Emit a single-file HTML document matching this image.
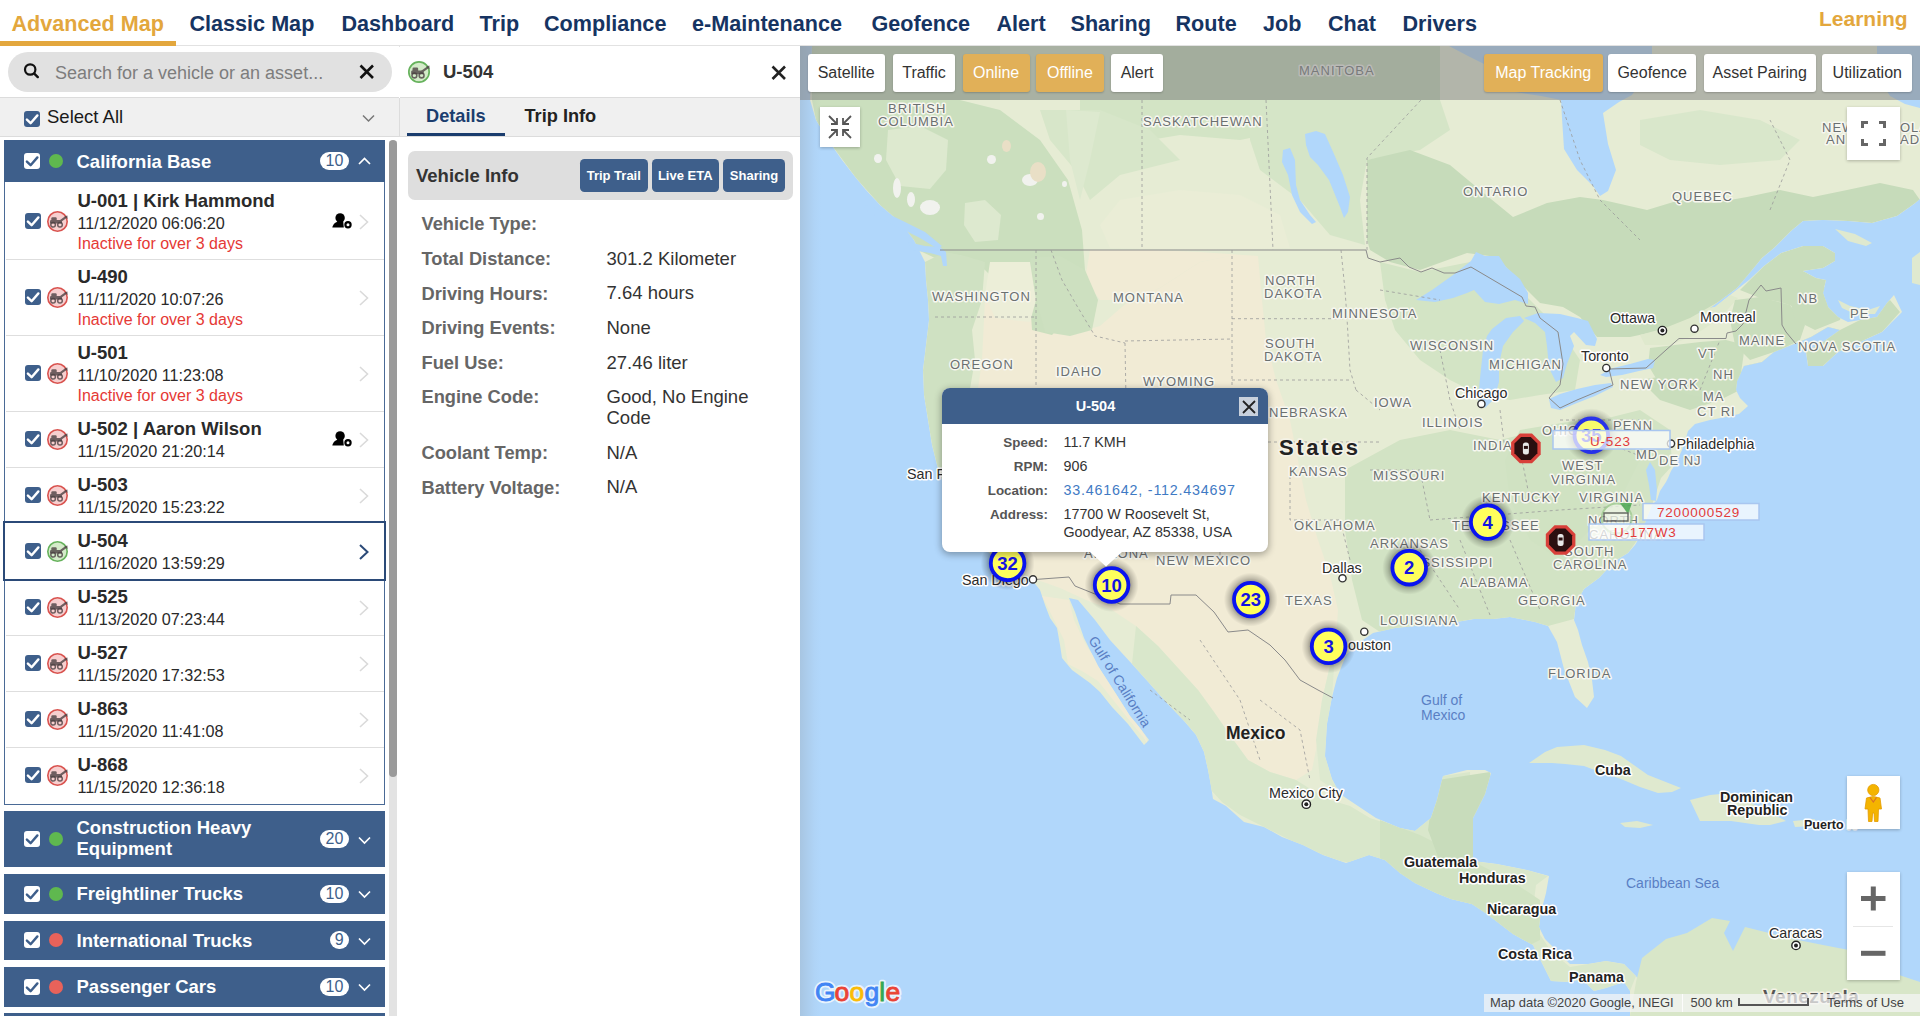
<!DOCTYPE html>
<html><head><meta charset="utf-8"><title>Advanced Map</title>
<style>
html,body{margin:0;padding:0;}
body{width:1920px;height:1016px;overflow:hidden;position:relative;background:#fff;font-family:"Liberation Sans",sans-serif;}
.ab{position:absolute;}
.t{position:absolute;white-space:nowrap;}
svg.ab{overflow:visible;}
</style></head><body>
<div class="ab" style="left:0;top:0;width:1920px;height:46px;background:#fff"></div>
<div class="ab" style="left:0;top:45px;width:1920px;height:2px;background:#e2e2e2"></div>
<div class="ab" style="left:0;top:41px;width:176px;height:5.8px;background:#e3a73d"></div>
<div class="t" style="left:11.5px;top:12.92px;font-size:21.6px;line-height:21.6px;font-weight:bold;color:#e3a73d;width:156px">Advanced Map</div>
<div class="t" style="left:189.5px;top:12.92px;font-size:21.6px;line-height:21.6px;font-weight:bold;color:#163462;width:129px">Classic Map</div>
<div class="t" style="left:341.5px;top:12.92px;font-size:21.6px;line-height:21.6px;font-weight:bold;color:#163462;width:115px">Dashboard</div>
<div class="t" style="left:479.5px;top:12.92px;font-size:21.6px;line-height:21.6px;font-weight:bold;color:#163462;width:41px">Trip</div>
<div class="t" style="left:544px;top:12.92px;font-size:21.6px;line-height:21.6px;font-weight:bold;color:#163462;width:125px">Compliance</div>
<div class="t" style="left:692px;top:12.92px;font-size:21.6px;line-height:21.6px;font-weight:bold;color:#163462;width:155px">e-Maintenance</div>
<div class="t" style="left:871.5px;top:12.92px;font-size:21.6px;line-height:21.6px;font-weight:bold;color:#163462;width:101px">Geofence</div>
<div class="t" style="left:996.5px;top:12.92px;font-size:21.6px;line-height:21.6px;font-weight:bold;color:#163462;width:52px">Alert</div>
<div class="t" style="left:1070.5px;top:12.92px;font-size:21.6px;line-height:21.6px;font-weight:bold;color:#163462;width:81px">Sharing</div>
<div class="t" style="left:1175.5px;top:12.92px;font-size:21.6px;line-height:21.6px;font-weight:bold;color:#163462;width:64px">Route</div>
<div class="t" style="left:1263px;top:12.92px;font-size:21.6px;line-height:21.6px;font-weight:bold;color:#163462;width:41px">Job</div>
<div class="t" style="left:1328px;top:12.92px;font-size:21.6px;line-height:21.6px;font-weight:bold;color:#163462;width:51px">Chat</div>
<div class="t" style="left:1402.5px;top:12.92px;font-size:21.6px;line-height:21.6px;font-weight:bold;color:#163462;width:76px">Drivers</div>
<div class="t" style="left:1819px;top:7.72px;font-size:21px;line-height:21px;font-weight:bold;color:#e3a73d;">Learning</div>
<div class="ab" style="left:0;top:46px;width:399px;height:970px;background:#fff"></div>
<div class="ab" style="left:8px;top:52px;width:384px;height:40px;border-radius:20px;background:#e1e1e1"></div>
<svg class="ab" style="left:22px;top:64px" width="20" height="18" viewBox="0 0 20 18"><circle cx="8.2" cy="5.5" r="5.2" fill="none" stroke="#111" stroke-width="2.2"/><path d="M12.3 9.6 L15.8 13.1" stroke="#111" stroke-width="2.4" stroke-linecap="round"/></svg>
<div class="t" style="left:55px;top:63.96px;font-size:18px;line-height:18px;font-weight:normal;color:#7d7d7d;">Search for a vehicle or an asset...</div>
<svg class="ab" style="left:359px;top:64px" width="16" height="16" viewBox="0 0 16 16"><path d="M1.5 1.5 L14 14 M14 1.5 L1.5 14" stroke="#111" stroke-width="2.6"/></svg>
<div class="ab" style="left:0;top:97px;width:399px;height:1px;background:#dcdcdc"></div>
<div class="ab" style="left:0;top:98px;width:399px;height:38px;background:#f0f0f0"></div>
<div class="ab" style="left:0;top:136px;width:399px;height:1px;background:#dcdcdc"></div>
<svg class="ab" style="left:24px;top:111px" width="16" height="16" viewBox="0 0 16 16"><rect x="0" y="0" width="16" height="16" rx="3" fill="#3e5f8b"/><path d="M2.9 8.6 L6.6 12.2 L13.4 4.4" fill="none" stroke="#ffffff" stroke-width="2.4" stroke-linecap="round" stroke-linejoin="round"/></svg>
<div class="t" style="left:47px;top:108.34px;font-size:18.5px;line-height:18.5px;font-weight:normal;color:#1a1a1a;">Select All</div>
<svg class="ab" style="left:362px;top:114px" width="13" height="9" viewBox="0 0 13 9"><path d="M1 1.5 L6.5 7 L12 1.5" fill="none" stroke="#777" stroke-width="1.5"/></svg>
<div class="ab" style="left:4px;top:140.2px;width:380.8px;height:42.3px;background:#3e5f8b"></div><svg class="ab" style="left:24px;top:153px" width="16" height="16" viewBox="0 0 16 16"><rect x="0" y="0" width="16" height="16" rx="3" fill="#ffffff"/><path d="M2.9 8.6 L6.6 12.2 L13.4 4.4" fill="none" stroke="#3e5f8b" stroke-width="2.4" stroke-linecap="round" stroke-linejoin="round"/></svg><div class="ab" style="left:49px;top:154.3px;width:14px;height:14px;border-radius:7px;background:#5fb84f"></div><div class="t" style="left:76.5px;top:152.99px;font-size:18.5px;line-height:18.5px;font-weight:bold;color:#fff;">California Base</div><div class="ab" style="left:320px;top:152.3px;width:29px;height:18px;border-radius:9px;background:#fff;color:#3e5f8b;font-size:16px;line-height:18px;text-align:center">10</div><svg class="ab" style="left:357.5px;top:157px" width="13" height="9" viewBox="0 0 13 9"><path d="M1 7 L6.5 1.5 L12 7" fill="none" stroke="#fff" stroke-width="1.7"/></svg>
<div class="ab" style="left:4.2px;top:182px;width:378.6px;height:622px;border:1px solid #4a6a96;border-top:none;background:#fff"></div>
<svg class="ab" style="left:25px;top:213px" width="16" height="16" viewBox="0 0 16 16"><rect x="0" y="0" width="16" height="16" rx="3" fill="#3e5f8b"/><path d="M2.9 8.6 L6.6 12.2 L13.4 4.4" fill="none" stroke="#ffffff" stroke-width="2.4" stroke-linecap="round" stroke-linejoin="round"/></svg>
<svg class="ab" style="left:46.9px;top:210.5px" width="21" height="21" viewBox="0 0 21 21"><circle cx="10.5" cy="10.5" r="9.7" fill="#f7cfcf" stroke="#d9534f" stroke-width="1.6"/><g fill="#4a3f41" opacity="0.78" transform="translate(0,-1.2)"><rect x="4.3" y="7.4" width="5.4" height="4" rx="1.2"/><rect x="3" y="10.2" width="12" height="3.6" rx="1.2"/><path d="M12 11 L18.6 6.2 L20.2 7.6 L13.6 12.4 Z"/><path d="M17.6 6.4 L20.4 5.6 L20.6 9.4 Z"/></g><g fill="none" stroke="#4a3f41" stroke-width="1.5" opacity="0.78" transform="translate(0,-1.2)"><circle cx="6.1" cy="15" r="2.3"/><circle cx="13" cy="15" r="2.3"/></g></svg>
<div class="t" style="left:77.5px;top:191.84px;font-size:18.5px;line-height:18.5px;font-weight:bold;color:#2a2a2a;">U-001 | Kirk Hammond</div>
<div class="t" style="left:77.5px;top:215.29px;font-size:16.2px;line-height:16.2px;font-weight:normal;color:#2a2a2a;">11/12/2020 06:06:20</div>
<div class="t" style="left:77.5px;top:235.86px;font-size:16px;line-height:16px;font-weight:normal;color:#e53935;">Inactive for over 3 days</div>
<svg class="ab" style="left:332px;top:213px" width="21" height="16" viewBox="0 0 21 16"><circle cx="8.1" cy="4.9" r="4.7" fill="#000"/><path d="M0.3 14.6 C1 10.8 3.6 8.4 7.6 8.4 L11.2 8.4 L11.8 14.6 Z" fill="#000"/><circle cx="16" cy="11.8" r="2.6" fill="#fff" stroke="#000" stroke-width="2.2"/></svg>
<svg class="ab" style="left:357.8px;top:214.0px" width="12" height="16" viewBox="0 0 12 16"><path d="M2 1 L9.5 8 L2 15" fill="none" stroke="#dadada" stroke-width="1.6"/></svg>
<div class="ab" style="left:5.5px;top:258.7px;width:378px;height:1px;background:#dedede"></div>
<svg class="ab" style="left:25px;top:289px" width="16" height="16" viewBox="0 0 16 16"><rect x="0" y="0" width="16" height="16" rx="3" fill="#3e5f8b"/><path d="M2.9 8.6 L6.6 12.2 L13.4 4.4" fill="none" stroke="#ffffff" stroke-width="2.4" stroke-linecap="round" stroke-linejoin="round"/></svg>
<svg class="ab" style="left:46.9px;top:286.5px" width="21" height="21" viewBox="0 0 21 21"><circle cx="10.5" cy="10.5" r="9.7" fill="#f7cfcf" stroke="#d9534f" stroke-width="1.6"/><g fill="#4a3f41" opacity="0.78" transform="translate(0,-1.2)"><rect x="4.3" y="7.4" width="5.4" height="4" rx="1.2"/><rect x="3" y="10.2" width="12" height="3.6" rx="1.2"/><path d="M12 11 L18.6 6.2 L20.2 7.6 L13.6 12.4 Z"/><path d="M17.6 6.4 L20.4 5.6 L20.6 9.4 Z"/></g><g fill="none" stroke="#4a3f41" stroke-width="1.5" opacity="0.78" transform="translate(0,-1.2)"><circle cx="6.1" cy="15" r="2.3"/><circle cx="13" cy="15" r="2.3"/></g></svg>
<div class="t" style="left:77.5px;top:267.84px;font-size:18.5px;line-height:18.5px;font-weight:bold;color:#2a2a2a;">U-490</div>
<div class="t" style="left:77.5px;top:291.29px;font-size:16.2px;line-height:16.2px;font-weight:normal;color:#2a2a2a;">11/11/2020 10:07:26</div>
<div class="t" style="left:77.5px;top:311.86px;font-size:16px;line-height:16px;font-weight:normal;color:#e53935;">Inactive for over 3 days</div>
<svg class="ab" style="left:357.8px;top:290.0px" width="12" height="16" viewBox="0 0 12 16"><path d="M2 1 L9.5 8 L2 15" fill="none" stroke="#dadada" stroke-width="1.6"/></svg>
<div class="ab" style="left:5.5px;top:334.7px;width:378px;height:1px;background:#dedede"></div>
<svg class="ab" style="left:25px;top:365px" width="16" height="16" viewBox="0 0 16 16"><rect x="0" y="0" width="16" height="16" rx="3" fill="#3e5f8b"/><path d="M2.9 8.6 L6.6 12.2 L13.4 4.4" fill="none" stroke="#ffffff" stroke-width="2.4" stroke-linecap="round" stroke-linejoin="round"/></svg>
<svg class="ab" style="left:46.9px;top:362.5px" width="21" height="21" viewBox="0 0 21 21"><circle cx="10.5" cy="10.5" r="9.7" fill="#f7cfcf" stroke="#d9534f" stroke-width="1.6"/><g fill="#4a3f41" opacity="0.78" transform="translate(0,-1.2)"><rect x="4.3" y="7.4" width="5.4" height="4" rx="1.2"/><rect x="3" y="10.2" width="12" height="3.6" rx="1.2"/><path d="M12 11 L18.6 6.2 L20.2 7.6 L13.6 12.4 Z"/><path d="M17.6 6.4 L20.4 5.6 L20.6 9.4 Z"/></g><g fill="none" stroke="#4a3f41" stroke-width="1.5" opacity="0.78" transform="translate(0,-1.2)"><circle cx="6.1" cy="15" r="2.3"/><circle cx="13" cy="15" r="2.3"/></g></svg>
<div class="t" style="left:77.5px;top:343.84px;font-size:18.5px;line-height:18.5px;font-weight:bold;color:#2a2a2a;">U-501</div>
<div class="t" style="left:77.5px;top:367.29px;font-size:16.2px;line-height:16.2px;font-weight:normal;color:#2a2a2a;">11/10/2020 11:23:08</div>
<div class="t" style="left:77.5px;top:387.86px;font-size:16px;line-height:16px;font-weight:normal;color:#e53935;">Inactive for over 3 days</div>
<svg class="ab" style="left:357.8px;top:366.0px" width="12" height="16" viewBox="0 0 12 16"><path d="M2 1 L9.5 8 L2 15" fill="none" stroke="#dadada" stroke-width="1.6"/></svg>
<div class="ab" style="left:5.5px;top:410.7px;width:378px;height:1px;background:#dedede"></div>
<svg class="ab" style="left:25px;top:431px" width="16" height="16" viewBox="0 0 16 16"><rect x="0" y="0" width="16" height="16" rx="3" fill="#3e5f8b"/><path d="M2.9 8.6 L6.6 12.2 L13.4 4.4" fill="none" stroke="#ffffff" stroke-width="2.4" stroke-linecap="round" stroke-linejoin="round"/></svg>
<svg class="ab" style="left:46.9px;top:428.5px" width="21" height="21" viewBox="0 0 21 21"><circle cx="10.5" cy="10.5" r="9.7" fill="#f7cfcf" stroke="#d9534f" stroke-width="1.6"/><g fill="#4a3f41" opacity="0.78" transform="translate(0,-1.2)"><rect x="4.3" y="7.4" width="5.4" height="4" rx="1.2"/><rect x="3" y="10.2" width="12" height="3.6" rx="1.2"/><path d="M12 11 L18.6 6.2 L20.2 7.6 L13.6 12.4 Z"/><path d="M17.6 6.4 L20.4 5.6 L20.6 9.4 Z"/></g><g fill="none" stroke="#4a3f41" stroke-width="1.5" opacity="0.78" transform="translate(0,-1.2)"><circle cx="6.1" cy="15" r="2.3"/><circle cx="13" cy="15" r="2.3"/></g></svg>
<div class="t" style="left:77.5px;top:419.84px;font-size:18.5px;line-height:18.5px;font-weight:bold;color:#2a2a2a;">U-502 | Aaron Wilson</div>
<div class="t" style="left:77.5px;top:443.29px;font-size:16.2px;line-height:16.2px;font-weight:normal;color:#2a2a2a;">11/15/2020 21:20:14</div>
<svg class="ab" style="left:332px;top:431px" width="21" height="16" viewBox="0 0 21 16"><circle cx="8.1" cy="4.9" r="4.7" fill="#000"/><path d="M0.3 14.6 C1 10.8 3.6 8.4 7.6 8.4 L11.2 8.4 L11.8 14.6 Z" fill="#000"/><circle cx="16" cy="11.8" r="2.6" fill="#fff" stroke="#000" stroke-width="2.2"/></svg>
<svg class="ab" style="left:357.8px;top:432.0px" width="12" height="16" viewBox="0 0 12 16"><path d="M2 1 L9.5 8 L2 15" fill="none" stroke="#dadada" stroke-width="1.6"/></svg>
<div class="ab" style="left:5.5px;top:466.7px;width:378px;height:1px;background:#dedede"></div>
<svg class="ab" style="left:25px;top:487px" width="16" height="16" viewBox="0 0 16 16"><rect x="0" y="0" width="16" height="16" rx="3" fill="#3e5f8b"/><path d="M2.9 8.6 L6.6 12.2 L13.4 4.4" fill="none" stroke="#ffffff" stroke-width="2.4" stroke-linecap="round" stroke-linejoin="round"/></svg>
<svg class="ab" style="left:46.9px;top:484.5px" width="21" height="21" viewBox="0 0 21 21"><circle cx="10.5" cy="10.5" r="9.7" fill="#f7cfcf" stroke="#d9534f" stroke-width="1.6"/><g fill="#4a3f41" opacity="0.78" transform="translate(0,-1.2)"><rect x="4.3" y="7.4" width="5.4" height="4" rx="1.2"/><rect x="3" y="10.2" width="12" height="3.6" rx="1.2"/><path d="M12 11 L18.6 6.2 L20.2 7.6 L13.6 12.4 Z"/><path d="M17.6 6.4 L20.4 5.6 L20.6 9.4 Z"/></g><g fill="none" stroke="#4a3f41" stroke-width="1.5" opacity="0.78" transform="translate(0,-1.2)"><circle cx="6.1" cy="15" r="2.3"/><circle cx="13" cy="15" r="2.3"/></g></svg>
<div class="t" style="left:77.5px;top:475.84px;font-size:18.5px;line-height:18.5px;font-weight:bold;color:#2a2a2a;">U-503</div>
<div class="t" style="left:77.5px;top:499.29px;font-size:16.2px;line-height:16.2px;font-weight:normal;color:#2a2a2a;">11/15/2020 15:23:22</div>
<svg class="ab" style="left:357.8px;top:488.0px" width="12" height="16" viewBox="0 0 12 16"><path d="M2 1 L9.5 8 L2 15" fill="none" stroke="#dadada" stroke-width="1.6"/></svg>
<div class="ab" style="left:3px;top:521px;width:382.5px;height:60px;border:2.2px solid #2b4a78;box-sizing:border-box;"></div>
<svg class="ab" style="left:25px;top:543px" width="16" height="16" viewBox="0 0 16 16"><rect x="0" y="0" width="16" height="16" rx="3" fill="#3e5f8b"/><path d="M2.9 8.6 L6.6 12.2 L13.4 4.4" fill="none" stroke="#ffffff" stroke-width="2.4" stroke-linecap="round" stroke-linejoin="round"/></svg>
<svg class="ab" style="left:46.9px;top:540.5px" width="21" height="21" viewBox="0 0 21 21"><circle cx="10.5" cy="10.5" r="9.7" fill="#d4ebc9" stroke="#66b25c" stroke-width="1.6"/><g fill="#4a3f41" opacity="0.78" transform="translate(0,-1.2)"><rect x="4.3" y="7.4" width="5.4" height="4" rx="1.2"/><rect x="3" y="10.2" width="12" height="3.6" rx="1.2"/><path d="M12 11 L18.6 6.2 L20.2 7.6 L13.6 12.4 Z"/><path d="M17.6 6.4 L20.4 5.6 L20.6 9.4 Z"/></g><g fill="none" stroke="#4a3f41" stroke-width="1.5" opacity="0.78" transform="translate(0,-1.2)"><circle cx="6.1" cy="15" r="2.3"/><circle cx="13" cy="15" r="2.3"/></g></svg>
<div class="t" style="left:77.5px;top:531.84px;font-size:18.5px;line-height:18.5px;font-weight:bold;color:#2a2a2a;">U-504</div>
<div class="t" style="left:77.5px;top:555.29px;font-size:16.2px;line-height:16.2px;font-weight:normal;color:#2a2a2a;">11/16/2020 13:59:29</div>
<svg class="ab" style="left:357.8px;top:544.0px" width="12" height="16" viewBox="0 0 12 16"><path d="M2 1 L9.5 8 L2 15" fill="none" stroke="#2b4a78" stroke-width="2"/></svg>
<svg class="ab" style="left:25px;top:599px" width="16" height="16" viewBox="0 0 16 16"><rect x="0" y="0" width="16" height="16" rx="3" fill="#3e5f8b"/><path d="M2.9 8.6 L6.6 12.2 L13.4 4.4" fill="none" stroke="#ffffff" stroke-width="2.4" stroke-linecap="round" stroke-linejoin="round"/></svg>
<svg class="ab" style="left:46.9px;top:596.5px" width="21" height="21" viewBox="0 0 21 21"><circle cx="10.5" cy="10.5" r="9.7" fill="#f7cfcf" stroke="#d9534f" stroke-width="1.6"/><g fill="#4a3f41" opacity="0.78" transform="translate(0,-1.2)"><rect x="4.3" y="7.4" width="5.4" height="4" rx="1.2"/><rect x="3" y="10.2" width="12" height="3.6" rx="1.2"/><path d="M12 11 L18.6 6.2 L20.2 7.6 L13.6 12.4 Z"/><path d="M17.6 6.4 L20.4 5.6 L20.6 9.4 Z"/></g><g fill="none" stroke="#4a3f41" stroke-width="1.5" opacity="0.78" transform="translate(0,-1.2)"><circle cx="6.1" cy="15" r="2.3"/><circle cx="13" cy="15" r="2.3"/></g></svg>
<div class="t" style="left:77.5px;top:587.84px;font-size:18.5px;line-height:18.5px;font-weight:bold;color:#2a2a2a;">U-525</div>
<div class="t" style="left:77.5px;top:611.29px;font-size:16.2px;line-height:16.2px;font-weight:normal;color:#2a2a2a;">11/13/2020 07:23:44</div>
<svg class="ab" style="left:357.8px;top:600.0px" width="12" height="16" viewBox="0 0 12 16"><path d="M2 1 L9.5 8 L2 15" fill="none" stroke="#dadada" stroke-width="1.6"/></svg>
<div class="ab" style="left:5.5px;top:634.7px;width:378px;height:1px;background:#dedede"></div>
<svg class="ab" style="left:25px;top:655px" width="16" height="16" viewBox="0 0 16 16"><rect x="0" y="0" width="16" height="16" rx="3" fill="#3e5f8b"/><path d="M2.9 8.6 L6.6 12.2 L13.4 4.4" fill="none" stroke="#ffffff" stroke-width="2.4" stroke-linecap="round" stroke-linejoin="round"/></svg>
<svg class="ab" style="left:46.9px;top:652.5px" width="21" height="21" viewBox="0 0 21 21"><circle cx="10.5" cy="10.5" r="9.7" fill="#f7cfcf" stroke="#d9534f" stroke-width="1.6"/><g fill="#4a3f41" opacity="0.78" transform="translate(0,-1.2)"><rect x="4.3" y="7.4" width="5.4" height="4" rx="1.2"/><rect x="3" y="10.2" width="12" height="3.6" rx="1.2"/><path d="M12 11 L18.6 6.2 L20.2 7.6 L13.6 12.4 Z"/><path d="M17.6 6.4 L20.4 5.6 L20.6 9.4 Z"/></g><g fill="none" stroke="#4a3f41" stroke-width="1.5" opacity="0.78" transform="translate(0,-1.2)"><circle cx="6.1" cy="15" r="2.3"/><circle cx="13" cy="15" r="2.3"/></g></svg>
<div class="t" style="left:77.5px;top:643.84px;font-size:18.5px;line-height:18.5px;font-weight:bold;color:#2a2a2a;">U-527</div>
<div class="t" style="left:77.5px;top:667.29px;font-size:16.2px;line-height:16.2px;font-weight:normal;color:#2a2a2a;">11/15/2020 17:32:53</div>
<svg class="ab" style="left:357.8px;top:656.0px" width="12" height="16" viewBox="0 0 12 16"><path d="M2 1 L9.5 8 L2 15" fill="none" stroke="#dadada" stroke-width="1.6"/></svg>
<div class="ab" style="left:5.5px;top:690.7px;width:378px;height:1px;background:#dedede"></div>
<svg class="ab" style="left:25px;top:711px" width="16" height="16" viewBox="0 0 16 16"><rect x="0" y="0" width="16" height="16" rx="3" fill="#3e5f8b"/><path d="M2.9 8.6 L6.6 12.2 L13.4 4.4" fill="none" stroke="#ffffff" stroke-width="2.4" stroke-linecap="round" stroke-linejoin="round"/></svg>
<svg class="ab" style="left:46.9px;top:708.5px" width="21" height="21" viewBox="0 0 21 21"><circle cx="10.5" cy="10.5" r="9.7" fill="#f7cfcf" stroke="#d9534f" stroke-width="1.6"/><g fill="#4a3f41" opacity="0.78" transform="translate(0,-1.2)"><rect x="4.3" y="7.4" width="5.4" height="4" rx="1.2"/><rect x="3" y="10.2" width="12" height="3.6" rx="1.2"/><path d="M12 11 L18.6 6.2 L20.2 7.6 L13.6 12.4 Z"/><path d="M17.6 6.4 L20.4 5.6 L20.6 9.4 Z"/></g><g fill="none" stroke="#4a3f41" stroke-width="1.5" opacity="0.78" transform="translate(0,-1.2)"><circle cx="6.1" cy="15" r="2.3"/><circle cx="13" cy="15" r="2.3"/></g></svg>
<div class="t" style="left:77.5px;top:699.84px;font-size:18.5px;line-height:18.5px;font-weight:bold;color:#2a2a2a;">U-863</div>
<div class="t" style="left:77.5px;top:723.29px;font-size:16.2px;line-height:16.2px;font-weight:normal;color:#2a2a2a;">11/15/2020 11:41:08</div>
<svg class="ab" style="left:357.8px;top:712.0px" width="12" height="16" viewBox="0 0 12 16"><path d="M2 1 L9.5 8 L2 15" fill="none" stroke="#dadada" stroke-width="1.6"/></svg>
<div class="ab" style="left:5.5px;top:746.7px;width:378px;height:1px;background:#dedede"></div>
<svg class="ab" style="left:25px;top:767px" width="16" height="16" viewBox="0 0 16 16"><rect x="0" y="0" width="16" height="16" rx="3" fill="#3e5f8b"/><path d="M2.9 8.6 L6.6 12.2 L13.4 4.4" fill="none" stroke="#ffffff" stroke-width="2.4" stroke-linecap="round" stroke-linejoin="round"/></svg>
<svg class="ab" style="left:46.9px;top:764.5px" width="21" height="21" viewBox="0 0 21 21"><circle cx="10.5" cy="10.5" r="9.7" fill="#f7cfcf" stroke="#d9534f" stroke-width="1.6"/><g fill="#4a3f41" opacity="0.78" transform="translate(0,-1.2)"><rect x="4.3" y="7.4" width="5.4" height="4" rx="1.2"/><rect x="3" y="10.2" width="12" height="3.6" rx="1.2"/><path d="M12 11 L18.6 6.2 L20.2 7.6 L13.6 12.4 Z"/><path d="M17.6 6.4 L20.4 5.6 L20.6 9.4 Z"/></g><g fill="none" stroke="#4a3f41" stroke-width="1.5" opacity="0.78" transform="translate(0,-1.2)"><circle cx="6.1" cy="15" r="2.3"/><circle cx="13" cy="15" r="2.3"/></g></svg>
<div class="t" style="left:77.5px;top:755.84px;font-size:18.5px;line-height:18.5px;font-weight:bold;color:#2a2a2a;">U-868</div>
<div class="t" style="left:77.5px;top:779.29px;font-size:16.2px;line-height:16.2px;font-weight:normal;color:#2a2a2a;">11/15/2020 12:36:18</div>
<svg class="ab" style="left:357.8px;top:768.0px" width="12" height="16" viewBox="0 0 12 16"><path d="M2 1 L9.5 8 L2 15" fill="none" stroke="#dadada" stroke-width="1.6"/></svg>
<div class="ab" style="left:4px;top:811px;width:380.8px;height:56px;background:#3e5f8b"></div><svg class="ab" style="left:24px;top:831px" width="16" height="16" viewBox="0 0 16 16"><rect x="0" y="0" width="16" height="16" rx="3" fill="#ffffff"/><path d="M2.9 8.6 L6.6 12.2 L13.4 4.4" fill="none" stroke="#3e5f8b" stroke-width="2.4" stroke-linecap="round" stroke-linejoin="round"/></svg><div class="ab" style="left:49px;top:832.0px;width:14px;height:14px;border-radius:7px;background:#5fb84f"></div><div class="t" style="left:76.5px;top:819.34px;font-size:18.5px;line-height:18.5px;font-weight:bold;color:#fff;">Construction Heavy</div><div class="t" style="left:76.5px;top:840.04px;font-size:18.5px;line-height:18.5px;font-weight:bold;color:#fff;">Equipment</div><div class="ab" style="left:320px;top:830.0px;width:29px;height:18px;border-radius:9px;background:#fff;color:#3e5f8b;font-size:16px;line-height:18px;text-align:center">20</div><svg class="ab" style="left:357.5px;top:836px" width="13" height="9" viewBox="0 0 13 9"><path d="M1 1.5 L6.5 7 L12 1.5" fill="none" stroke="#fff" stroke-width="1.7"/></svg>
<div class="ab" style="left:4px;top:874px;width:380.8px;height:39.5px;background:#3e5f8b"></div><svg class="ab" style="left:24px;top:886px" width="16" height="16" viewBox="0 0 16 16"><rect x="0" y="0" width="16" height="16" rx="3" fill="#ffffff"/><path d="M2.9 8.6 L6.6 12.2 L13.4 4.4" fill="none" stroke="#3e5f8b" stroke-width="2.4" stroke-linecap="round" stroke-linejoin="round"/></svg><div class="ab" style="left:49px;top:886.8px;width:14px;height:14px;border-radius:7px;background:#5fb84f"></div><div class="t" style="left:76.5px;top:885.39px;font-size:18.5px;line-height:18.5px;font-weight:bold;color:#fff;">Freightliner Trucks</div><div class="ab" style="left:320px;top:884.8px;width:29px;height:18px;border-radius:9px;background:#fff;color:#3e5f8b;font-size:16px;line-height:18px;text-align:center">10</div><svg class="ab" style="left:357.5px;top:890px" width="13" height="9" viewBox="0 0 13 9"><path d="M1 1.5 L6.5 7 L12 1.5" fill="none" stroke="#fff" stroke-width="1.7"/></svg>
<div class="ab" style="left:4px;top:920.5px;width:380.8px;height:39.5px;background:#3e5f8b"></div><svg class="ab" style="left:24px;top:932px" width="16" height="16" viewBox="0 0 16 16"><rect x="0" y="0" width="16" height="16" rx="3" fill="#ffffff"/><path d="M2.9 8.6 L6.6 12.2 L13.4 4.4" fill="none" stroke="#3e5f8b" stroke-width="2.4" stroke-linecap="round" stroke-linejoin="round"/></svg><div class="ab" style="left:49px;top:933.2px;width:14px;height:14px;border-radius:7px;background:#e8625a"></div><div class="t" style="left:76.5px;top:931.89px;font-size:18.5px;line-height:18.5px;font-weight:bold;color:#fff;">International Trucks</div><div class="ab" style="left:329.5px;top:931.2px;width:19.5px;height:18px;border-radius:9px;background:#fff;color:#3e5f8b;font-size:16px;line-height:18px;text-align:center">9</div><svg class="ab" style="left:357.5px;top:937px" width="13" height="9" viewBox="0 0 13 9"><path d="M1 1.5 L6.5 7 L12 1.5" fill="none" stroke="#fff" stroke-width="1.7"/></svg>
<div class="ab" style="left:4px;top:967px;width:380.8px;height:39.5px;background:#3e5f8b"></div><svg class="ab" style="left:24px;top:979px" width="16" height="16" viewBox="0 0 16 16"><rect x="0" y="0" width="16" height="16" rx="3" fill="#ffffff"/><path d="M2.9 8.6 L6.6 12.2 L13.4 4.4" fill="none" stroke="#3e5f8b" stroke-width="2.4" stroke-linecap="round" stroke-linejoin="round"/></svg><div class="ab" style="left:49px;top:979.8px;width:14px;height:14px;border-radius:7px;background:#e8625a"></div><div class="t" style="left:76.5px;top:978.39px;font-size:18.5px;line-height:18.5px;font-weight:bold;color:#fff;">Passenger Cars</div><div class="ab" style="left:320px;top:977.8px;width:29px;height:18px;border-radius:9px;background:#fff;color:#3e5f8b;font-size:16px;line-height:18px;text-align:center">10</div><svg class="ab" style="left:357.5px;top:983px" width="13" height="9" viewBox="0 0 13 9"><path d="M1 1.5 L6.5 7 L12 1.5" fill="none" stroke="#fff" stroke-width="1.7"/></svg>
<div class="ab" style="left:4px;top:1013px;width:380.8px;height:10px;background:#3e5f8b"></div>
<div class="ab" style="left:389px;top:141px;width:8.3px;height:875px;background:#e3e3e3"></div>
<div class="ab" style="left:389.3px;top:140px;width:7.7px;height:637px;border-radius:4px;background:#9a9a9a"></div>
<div class="ab" style="left:399px;top:98px;width:1px;height:39px;background:#dcdcdc"></div>
<div class="ab" style="left:400px;top:46px;width:400px;height:970px;background:#fff"></div>
<svg class="ab" style="left:407.7px;top:61.0px" width="22" height="22" viewBox="0 0 21 21"><circle cx="10.5" cy="10.5" r="9.7" fill="#d4ebc9" stroke="#66b25c" stroke-width="1.6"/><g fill="#4a3f41" opacity="0.78" transform="translate(0,-1.2)"><rect x="4.3" y="7.4" width="5.4" height="4" rx="1.2"/><rect x="3" y="10.2" width="12" height="3.6" rx="1.2"/><path d="M12 11 L18.6 6.2 L20.2 7.6 L13.6 12.4 Z"/><path d="M17.6 6.4 L20.4 5.6 L20.6 9.4 Z"/></g><g fill="none" stroke="#4a3f41" stroke-width="1.5" opacity="0.78" transform="translate(0,-1.2)"><circle cx="6.1" cy="15" r="2.3"/><circle cx="13" cy="15" r="2.3"/></g></svg>
<div class="t" style="left:443px;top:63.04px;font-size:18.5px;line-height:18.5px;font-weight:bold;color:#333;">U-504</div>
<svg class="ab" style="left:771px;top:64.5px" width="16" height="16" viewBox="0 0 16 16"><path d="M1.5 1.5 L14 14 M14 1.5 L1.5 14" stroke="#222" stroke-width="2.6"/></svg>
<div class="ab" style="left:400px;top:97px;width:400px;height:1px;background:#dcdcdc"></div>
<div class="ab" style="left:400px;top:98px;width:400px;height:38px;background:#f0f0f0"></div>
<div class="ab" style="left:400px;top:136px;width:400px;height:1px;background:#dcdcdc"></div>
<div class="ab" style="left:406.7px;top:133px;width:98.3px;height:3px;background:#1b3d6e"></div>
<div class="t" style="left:426px;top:106.79px;font-size:18.2px;line-height:18.2px;font-weight:bold;color:#1b3d6e;">Details</div>
<div class="t" style="left:524.5px;top:106.79px;font-size:18.2px;line-height:18.2px;font-weight:bold;color:#222;">Trip Info</div>
<div class="ab" style="left:408px;top:151px;width:385px;height:49px;border-radius:7px;background:#dedede"></div>
<div class="t" style="left:416px;top:167.04px;font-size:18.5px;line-height:18.5px;font-weight:bold;color:#333;">Vehicle Info</div>
<div class="ab" style="left:580px;top:159px;width:67.5px;height:32.5px;border-radius:4.5px;background:#3e5f8b;color:#fff;font-weight:bold;font-size:13px;line-height:34px;text-align:center">Trip Trail</div>
<div class="ab" style="left:652px;top:159px;width:66.5px;height:32.5px;border-radius:4.5px;background:#3e5f8b;color:#fff;font-weight:bold;font-size:13px;line-height:34px;text-align:center">Live ETA</div>
<div class="ab" style="left:723px;top:159px;width:62px;height:32.5px;border-radius:4.5px;background:#3e5f8b;color:#fff;font-weight:bold;font-size:13px;line-height:34px;text-align:center">Sharing</div>
<div class="t" style="left:421.5px;top:215.41px;font-size:18.3px;line-height:18.3px;font-weight:bold;color:#666;">Vehicle Type:</div>
<div class="t" style="left:421.5px;top:250.01px;font-size:18.3px;line-height:18.3px;font-weight:bold;color:#666;">Total Distance:</div>
<div class="t" style="left:606.5px;top:249.84px;font-size:18.5px;line-height:18.5px;font-weight:normal;color:#333;">301.2 Kilometer</div>
<div class="t" style="left:421.5px;top:284.61px;font-size:18.3px;line-height:18.3px;font-weight:bold;color:#666;">Driving Hours:</div>
<div class="t" style="left:606.5px;top:284.44px;font-size:18.5px;line-height:18.5px;font-weight:normal;color:#333;">7.64 hours</div>
<div class="t" style="left:421.5px;top:319.21px;font-size:18.3px;line-height:18.3px;font-weight:bold;color:#666;">Driving Events:</div>
<div class="t" style="left:606.5px;top:319.04px;font-size:18.5px;line-height:18.5px;font-weight:normal;color:#333;">None</div>
<div class="t" style="left:421.5px;top:353.81px;font-size:18.3px;line-height:18.3px;font-weight:bold;color:#666;">Fuel Use:</div>
<div class="t" style="left:606.5px;top:353.64px;font-size:18.5px;line-height:18.5px;font-weight:normal;color:#333;">27.46 liter</div>
<div class="t" style="left:421.5px;top:388.41px;font-size:18.3px;line-height:18.3px;font-weight:bold;color:#666;">Engine Code:</div>
<div class="t" style="left:606.5px;top:388.24px;font-size:18.5px;line-height:18.5px;font-weight:normal;color:#333;">Good, No Engine</div>
<div class="t" style="left:606.5px;top:409.24px;font-size:18.5px;line-height:18.5px;font-weight:normal;color:#333;">Code</div>
<div class="t" style="left:421.5px;top:444.01px;font-size:18.3px;line-height:18.3px;font-weight:bold;color:#666;">Coolant Temp:</div>
<div class="t" style="left:606.5px;top:443.84px;font-size:18.5px;line-height:18.5px;font-weight:normal;color:#333;">N/A</div>
<div class="t" style="left:421.5px;top:478.61px;font-size:18.3px;line-height:18.3px;font-weight:bold;color:#666;">Battery Voltage:</div>
<div class="t" style="left:606.5px;top:478.44px;font-size:18.5px;line-height:18.5px;font-weight:normal;color:#333;">N/A</div>
<svg class="ab" style="left:800px;top:46px" width="1120" height="970" viewBox="800 46 1120 970" font-family="Liberation Sans, sans-serif">
<defs><radialGradient id="cshadow" cx="0.5" cy="0.5" r="0.5"><stop offset="0.6" stop-color="#000" stop-opacity="0.45"/><stop offset="0.8" stop-color="#000" stop-opacity="0.18"/><stop offset="1" stop-color="#000" stop-opacity="0"/></radialGradient></defs>
<rect x="800" y="46" width="1120" height="970" fill="#b1d7fb"/>
<clipPath id="landclip"><path d="M812,46 L810,100 L816,120 L828,140 L842,160 L856,178 L866,190 L880,205 L893,216 L905,228 L914,240 L920,252 L925,262 L926,280 L928,300 L929,320 L926,345 L923,370 L924,395 L928,420 L932,445 L937,465 L942,480 L950,500 L962,522 L980,545 L1000,562 L1020,575 L1032,580 L1040,590 L1045,605 L1050,618 L1057,628 L1060,645 L1062,658 L1072,670 L1090,683 L1100,692 L1112,707 L1128,724 L1144,745 L1149,740 L1140,728 L1130,716 L1116,694 L1098,666 L1084,638 L1075,612 L1069,598 L1078,600 L1095,620 L1110,640 L1132,664 L1150,684 L1166,702 L1185,722 L1196,735 L1204,752 L1208,770 L1211,786 L1213,799 L1226,806 L1244,822 L1264,827 L1282,837 L1303,845 L1323,855 L1346,863 L1369,855 L1385,860 L1400,873 L1415,883 L1436,893 L1451,899 L1472,904 L1487,914 L1500,924 L1513,934 L1533,945 L1543,965 L1551,981 L1570,982 L1582,979 L1594,991 L1606,988 L1624,982 L1630,991 L1630,1016 L1660,1016 L1636,976 L1624,964 L1606,961 L1588,964 L1570,964 L1557,951 L1545,939 L1539,927 L1541,912 L1546,893 L1549,876 L1527,870 L1497,864 L1473,861 L1473,840 L1473,818 L1479,806 L1485,794 L1491,773 L1485,770 L1467,770 L1443,776 L1437,800 L1431,818 L1415,831 L1400,828 L1376,818 L1358,806 L1340,794 L1332,779 L1325,756 L1327,724 L1332,697 L1337,678 L1346,655 L1360,642 L1373,633 L1395,628 L1415,626 L1435,624 L1451,623 L1474,619 L1493,619 L1510,617 L1520,619 L1535,622 L1548,626 L1557,642 L1564,669 L1575,697 L1587,708 L1594,697 L1592,680 L1588,662 L1582,645 L1578,630 L1574,620 L1576,603 L1584,589 L1599,578 L1615,561 L1628,553 L1635,545 L1641,535 L1646,520 L1652,505 L1657,500 L1660,491 L1666,482 L1668,478 L1671,471 L1676,463 L1682,450 L1685,441 L1688,431 L1695,424 L1710,420 L1726,417 L1739,414 L1748,406 L1740,398 L1736,390 L1737,381 L1744,366 L1762,362 L1774,352 L1794,344 L1811,337 L1828,327 L1840,330 L1823,342 L1806,352 L1808,366 L1823,366 L1838,352 L1860,342 L1882,332 L1892,322 L1902,312 L1894,295 L1887,303 L1877,317 L1860,320 L1848,322 L1838,317 L1828,307 L1823,293 L1826,280 L1816,278 L1803,271 L1823,268 L1835,261 L1835,253 L1823,246 L1803,246 L1781,253 L1764,266 L1749,280 L1730,295 L1715,307 L1710,308 L1737,288 L1762,258 L1774,248 L1791,231 L1803,221 L1823,220 L1848,221 L1872,223 L1897,216 L1914,204 L1920,199 L1920,108 L1905,104 L1890,96 L1880,80 L1877,60 L1877,46 Z"/></clipPath>
<path d="M812,46 L810,100 L816,120 L828,140 L842,160 L856,178 L866,190 L880,205 L893,216 L905,228 L914,240 L920,252 L925,262 L926,280 L928,300 L929,320 L926,345 L923,370 L924,395 L928,420 L932,445 L937,465 L942,480 L950,500 L962,522 L980,545 L1000,562 L1020,575 L1032,580 L1040,590 L1045,605 L1050,618 L1057,628 L1060,645 L1062,658 L1072,670 L1090,683 L1100,692 L1112,707 L1128,724 L1144,745 L1149,740 L1140,728 L1130,716 L1116,694 L1098,666 L1084,638 L1075,612 L1069,598 L1078,600 L1095,620 L1110,640 L1132,664 L1150,684 L1166,702 L1185,722 L1196,735 L1204,752 L1208,770 L1211,786 L1213,799 L1226,806 L1244,822 L1264,827 L1282,837 L1303,845 L1323,855 L1346,863 L1369,855 L1385,860 L1400,873 L1415,883 L1436,893 L1451,899 L1472,904 L1487,914 L1500,924 L1513,934 L1533,945 L1543,965 L1551,981 L1570,982 L1582,979 L1594,991 L1606,988 L1624,982 L1630,991 L1630,1016 L1660,1016 L1636,976 L1624,964 L1606,961 L1588,964 L1570,964 L1557,951 L1545,939 L1539,927 L1541,912 L1546,893 L1549,876 L1527,870 L1497,864 L1473,861 L1473,840 L1473,818 L1479,806 L1485,794 L1491,773 L1485,770 L1467,770 L1443,776 L1437,800 L1431,818 L1415,831 L1400,828 L1376,818 L1358,806 L1340,794 L1332,779 L1325,756 L1327,724 L1332,697 L1337,678 L1346,655 L1360,642 L1373,633 L1395,628 L1415,626 L1435,624 L1451,623 L1474,619 L1493,619 L1510,617 L1520,619 L1535,622 L1548,626 L1557,642 L1564,669 L1575,697 L1587,708 L1594,697 L1592,680 L1588,662 L1582,645 L1578,630 L1574,620 L1576,603 L1584,589 L1599,578 L1615,561 L1628,553 L1635,545 L1641,535 L1646,520 L1652,505 L1657,500 L1660,491 L1666,482 L1668,478 L1671,471 L1676,463 L1682,450 L1685,441 L1688,431 L1695,424 L1710,420 L1726,417 L1739,414 L1748,406 L1740,398 L1736,390 L1737,381 L1744,366 L1762,362 L1774,352 L1794,344 L1811,337 L1828,327 L1840,330 L1823,342 L1806,352 L1808,366 L1823,366 L1838,352 L1860,342 L1882,332 L1892,322 L1902,312 L1894,295 L1887,303 L1877,317 L1860,320 L1848,322 L1838,317 L1828,307 L1823,293 L1826,280 L1816,278 L1803,271 L1823,268 L1835,261 L1835,253 L1823,246 L1803,246 L1781,253 L1764,266 L1749,280 L1730,295 L1715,307 L1710,308 L1737,288 L1762,258 L1774,248 L1791,231 L1803,221 L1823,220 L1848,221 L1872,223 L1897,216 L1914,204 L1920,199 L1920,108 L1905,104 L1890,96 L1880,80 L1877,60 L1877,46 Z" fill="#e6ecd4" />
<g clip-path="url(#landclip)">
<path d="M812,46 L1000,46 L1000,100 L812,100 Z" fill="#c6dbb9" />
<path d="M1000,46 L1150,46 L1150,100 L1000,100 Z" fill="#d3e4c5" />
<path d="M1150,46 L1440,46 L1440,100 L1150,100 Z" fill="#c6dbb9" />
<path d="M1120,200 L1180,190 L1240,195 L1280,215 L1290,248 L1200,250 L1110,248 L1100,225 Z" fill="#eaedd6" />
<path d="M1080,100 L1300,100 L1290,130 L1240,140 L1180,135 L1120,145 L1080,140 Z" fill="#d3e4c5" />
<path d="M1090,250 L1150,250 L1200,252 L1258,256 L1230,256 L1200,262 L1160,288 L1130,300 L1100,300 L1085,280 Z" fill="#f1ebd5" />
<path d="M985,300 L1010,302 L1032,300 L1040,330 L1070,334 L1100,326 L1130,300 L1160,288 L1200,262 L1230,256 L1258,256 L1262,300 L1266,340 L1276,380 L1290,420 L1298,460 L1306,500 L1318,540 L1330,575 L1338,610 L1336,640 L1330,665 L1322,700 L1318,740 L1312,770 L1296,780 L1270,772 L1248,760 L1232,738 L1214,712 L1198,690 L1178,668 L1158,646 L1136,626 L1112,610 L1086,600 L1060,588 L1032,578 L1010,566 L990,548 L975,520 L968,490 L968,450 L975,410 L982,360 Z" fill="#f1ebd5" />
<path d="M1042,596 L1052,616 L1064,640 L1068,664 L1082,671 L1098,681 L1114,701 L1130,721 L1144,738 L1148,745 L1146,737 L1133,717 L1120,694 L1104,670 L1087,647 L1074,620 L1069,600 Z" fill="#f1ebd5" />
<path d="M812,100 L880,100 L960,100 L1000,110 L1040,140 L1068,180 L1082,230 L1085,270 L1075,310 L1052,335 L1032,330 L1030,300 L1005,290 L985,270 L960,255 L935,258 L918,250 L905,228 L880,205 L856,178 L828,140 L816,120 Z" fill="#cbdfbe" />
<path d="M1040,110 L1100,110 L1150,130 L1180,160 L1120,175 L1090,200 L1075,170 L1050,140 Z" fill="#d7e6c9" />
<path d="M925,262 L945,252 L965,256 L985,262 L982,300 L972,330 L975,360 L968,400 L960,440 L952,470 L942,480 L937,465 L932,445 L928,420 L924,395 L923,370 L926,345 L929,320 L928,300 L926,280 Z" fill="#cfe1c2" />
<path d="M1030,258 L1060,256 L1085,270 L1098,300 L1092,330 L1070,336 L1045,332 L1036,300 Z" fill="#cde0c0" />
<path d="M1250,100 L1370,100 L1440,100 L1450,130 L1420,150 L1367,160 L1360,200 L1365,245 L1330,235 L1300,200 L1260,170 L1250,140 Z" fill="#d5e5c7" />
<path d="M1640,120 L1700,110 L1760,120 L1800,140 L1780,160 L1720,165 L1670,160 L1640,145 Z" fill="#d9e7cb" />
<path d="M1367,160 L1410,150 L1450,165 L1480,190 L1513,217 L1547,203 L1580,197 L1603,200 L1647,210 L1680,200 L1713,203 L1747,197 L1780,190 L1813,197 L1847,190 L1880,183 L1913,190 L1920,200 L1914,204 L1897,216 L1872,223 L1848,221 L1823,220 L1803,221 L1791,231 L1774,248 L1762,258 L1747,277 L1737,288 L1713,307 L1693,323 L1663,330 L1630,337 L1597,337 L1580,317 L1563,307 L1540,303 L1520,283 L1497,257 L1467,253 L1420,270 L1390,262 L1370,250 L1367,240 Z" fill="#c6dbba" />
<path d="M1380,262 L1420,272 L1470,262 L1500,270 L1530,300 L1560,330 L1580,360 L1575,390 L1540,395 L1510,400 L1480,395 L1450,380 L1420,360 L1395,330 L1385,300 Z" fill="#d3e4c5" />
<path d="M1345,470 L1400,440 L1450,430 L1500,440 L1540,430 L1600,420 L1640,410 L1670,430 L1672,466 L1661,478 L1652,505 L1641,535 L1628,553 L1615,561 L1599,578 L1584,589 L1576,603 L1574,619 L1548,626 L1520,619 L1493,619 L1474,619 L1451,623 L1415,626 L1380,632 L1362,620 L1352,580 L1345,530 Z" fill="#d2e3c4" />
<path d="M1520,430 L1580,420 L1620,430 L1640,460 L1620,500 L1590,530 L1560,560 L1530,540 L1510,500 L1505,460 Z" fill="#d0e2c2" />
<path d="M1640,380 L1700,370 L1737,381 L1744,366 L1762,362 L1774,352 L1794,344 L1811,337 L1828,327 L1840,330 L1860,320 L1890,300 L1900,312 L1882,332 L1860,342 L1838,352 L1823,366 L1808,366 L1806,352 L1790,350 L1750,385 L1720,400 L1690,410 L1660,400 Z" fill="#c9ddbc" />
<path d="M1640,335 L1665,328 L1690,318 L1713,305 L1730,295 L1738,298 L1720,318 L1695,335 L1670,345 L1645,345 Z" fill="#dfe9cd" />
<path d="M1650,348 L1700,342 L1726,340 L1745,345 L1740,380 L1720,400 L1690,395 L1660,385 L1648,365 Z" fill="#cadebd" />
<path d="M1735,300 L1760,297 L1790,305 L1805,325 L1800,340 L1780,350 L1750,360 L1735,345 L1730,320 Z" fill="#c9ddbc" />
<path d="M1790,300 L1830,285 L1845,300 L1840,320 L1815,330 L1795,320 Z" fill="#c9ddbc" />
<path d="M1740,290 L1764,266 L1781,253 L1803,246 L1823,246 L1835,253 L1835,261 L1823,268 L1803,271 L1816,278 L1826,280 L1823,293 L1828,307 L1810,312 L1780,302 L1760,298 Z" fill="#c9ddbc" />
<path d="M1136,626 L1158,646 L1178,668 L1198,690 L1214,712 L1232,738 L1248,760 L1270,772 L1296,780 L1312,790 L1330,800 L1350,806 L1370,818 L1400,828 L1430,818 L1437,800 L1443,776 L1470,772 L1473,818 L1473,861 L1497,864 L1527,870 L1548,876 L1536,885 L1533,909 L1539,933 L1551,951 L1570,967 L1588,964 L1606,961 L1624,964 L1636,976 L1630,991 L1624,982 L1606,988 L1594,991 L1582,979 L1570,982 L1551,982 L1539,970 L1521,957 L1509,951 L1497,933 L1485,915 L1455,903 L1431,891 L1400,879 L1370,866 L1340,861 L1315,852 L1290,840 L1266,828 L1240,815 L1222,802 L1211,790 L1208,770 L1204,752 L1196,735 L1185,722 L1166,702 L1150,684 L1132,664 Z" fill="#d9e7cb" />
<path d="M1322,700 L1336,640 L1332,697 L1327,724 L1325,756 L1332,779 L1340,794 L1320,780 L1316,740 Z" fill="#dde9cf" />
<path d="M1380,820 L1420,835 L1470,860 L1510,880 L1540,900 L1540,940 L1520,950 L1500,930 L1480,912 L1440,895 L1400,878 L1380,860 Z" fill="#d0e2c2" />
<path d="M1438,780 L1490,772 L1493,790 L1480,830 L1475,862 L1440,862 L1428,830 L1432,800 Z" fill="#c8dcbb" />
<path d="M888,130 L920,126 L948,140 L946,170 L930,189 L900,186 L886,160 Z" fill="#dde9cf" />
<path d="M965,203 L985,200 L1001,215 L998,240 L975,242 L964,225 Z" fill="#dde9cf" />
<path d="M1066,110 L1100,112 L1090,160 L1080,200 L1070,160 Z" fill="#dde9cf" />
<path d="M990,262 L1030,262 L1036,300 L1030,322 L995,318 L985,295 Z" fill="#eceed8" />
<ellipse cx="878.0" cy="158.5" rx="4.0" ry="4.5" fill="#f1f2ee"/>
<ellipse cx="897.0" cy="188.0" rx="4.0" ry="10.0" fill="#f1f2ee"/>
<ellipse cx="911.0" cy="199.5" rx="4.0" ry="7.5" fill="#f1f2ee"/>
<ellipse cx="930.0" cy="207.5" rx="10.0" ry="7.5" fill="#f1f2ee"/>
<ellipse cx="991.5" cy="159.5" rx="4.5" ry="4.5" fill="#f1f2ee"/>
<ellipse cx="1030.0" cy="180.0" rx="8.0" ry="6.0" fill="#f1f2ee"/>
<ellipse cx="1040.5" cy="216.5" rx="3.5" ry="3.5" fill="#f1f2ee"/>
<ellipse cx="1064.5" cy="184.0" rx="2.5" ry="3.0" fill="#f1f2ee"/>
<ellipse cx="1006.5" cy="146.0" rx="4.5" ry="6.0" fill="#e9dfc6"/>
<ellipse cx="1038.0" cy="172.0" rx="8.0" ry="10.0" fill="#e9dfc6"/>
</g>
<path d="M1650,462 L1655,470 L1657,490 L1656,501 L1651,500 L1649,485 L1646,470 Z" fill="#b1d7fb" />
<path d="M866,205 L880,210 L905,222 L925,232 L942,246 L938,249 L920,238 L900,228 L878,217 L864,209 Z" fill="#b1d7fb" />
<path d="M908,242 L925,246 L940,247 L946,252 L947,266 L943,266 L941,256 L930,253 L912,250 Z" fill="#b1d7fb" />
<path d="M1529,763 L1545,752 L1557,747 L1584,745 L1605,750 L1621,756 L1648,775 L1681,788 L1672,792 L1658,793 L1640,787 L1621,779 L1600,772 L1584,766 L1565,764 L1552,763 Z" fill="#dfe9cf" />
<path d="M1690,800 L1710,795 L1731,793 L1745,800 L1759,807 L1786,821 L1770,825 L1759,825 L1731,821 L1700,821 Z" fill="#dfe9cf" />
<path d="M1620,823 L1637,821 L1653,825 L1640,828 L1625,827 Z" fill="#dfe9cf" />
<path d="M1793,821 L1815,819 L1812,826 L1795,827 Z" fill="#dfe9cf" />
<path d="M1835,229 L1855,234 L1872,243 L1866,246 L1848,241 Z" fill="#dfe9cf" />
<path d="M1912,258 L1920,252 L1920,285 L1912,283 Z" fill="#dfe9cf" />
<path d="M1838,300 L1850,306 L1868,310 L1880,306 L1875,314 L1855,314 L1842,308 Z" fill="#dfe9cf" />
<path d="M1630,1016 L1636,982 L1642,958 L1666,939 L1687,933 L1712,918 L1730,921 L1724,933 L1733,951 L1745,927 L1769,933 L1793,939 L1823,945 L1854,951 L1884,970 L1920,982 L1920,1016 Z" fill="#d8e6c8" />
<path d="M1449,46 L1468,56 L1488,66 L1515,92 L1541,96 L1561,100 L1562,118 L1564,149 L1577,170 L1593,186 L1600,196 L1608,191 L1616,170 L1608,144 L1603,113 L1619,102 L1632,95 L1642,80 L1652,62 L1652,46 Z" fill="#b1d7fb" />
<path d="M1416,300 L1432,290 L1453,275 L1471,261 L1476,252 L1485,256 L1499,256 L1506,267 L1520,279 L1528,293 L1528,304 L1515,300 L1499,304 L1485,302 L1474,290 L1467,293 L1453,298 L1435,302 Z" fill="#b1d7fb" />
<path d="M1492,329 L1506,318 L1520,316 L1524,321 L1513,332 L1503,346 L1499,364 L1499,382 L1494,399 L1485,408 L1478,400 L1480,378 L1483,350 L1487,336 Z" fill="#b1d7fb" />
<path d="M1524,318 L1538,313 L1560,314 L1577,318 L1588,321 L1597,339 L1595,346 L1586,345 L1574,332 L1570,336 L1574,346 L1567,364 L1563,378 L1556,382 L1549,368 L1547,346 L1545,332 L1535,323 Z" fill="#b1d7fb" />
<path d="M1549,399 L1560,394 L1577,389 L1595,385 L1611,383 L1613,387 L1595,396 L1577,403 L1560,410 L1551,408 Z" fill="#b1d7fb" />
<path d="M1600,375 L1613,368 L1630,364 L1648,359 L1655,360 L1653,368 L1639,371 L1622,375 L1606,377 Z" fill="#b1d7fb" />
<path d="M1305,134 L1316,131 L1325,134 L1334,154 L1343,175 L1350,197 L1348,212 L1344,218 L1340,207 L1329,180 L1318,165 L1310,157 L1306,145 Z" fill="#b1d7fb" />
<path d="M1283,150 L1290,148 L1295,160 L1296,185 L1300,200 L1310,215 L1316,222 L1312,224 L1300,212 L1292,195 L1288,175 L1282,162 Z" fill="#b1d7fb" />
<path d="M940,250 L1366,250 L1368,258 L1380,262 L1400,258 L1409,267 L1421,272 L1432,268 L1444,273 L1455,273 L1471,267 L1522,297 L1526,306 L1535,307 L1540,318 L1558,332 L1563,364 L1560,385 L1549,398 L1560,408 L1577,400 L1613,385 L1609,369 L1646,368 L1666,350 L1679,338.5 L1726,338.5 L1727,333 L1736,331 L1743,324 L1749,300 L1761,285 L1766,291 L1781,288 L1782,325 L1786,332 L1796,344" fill="none" stroke="#8a8a8a" stroke-width="1"/>
<path d="M1028,580 L1069,577 L1075,586 L1120,604 L1170,604 L1171,595 L1196,595 L1214,612 L1228,632 L1248,630 L1270,645 L1285,660 L1300,680 L1318,690 L1333,698" fill="none" stroke="#8a8a8a" stroke-width="1"/>
<path d="M1036,250 L1036,317 L1036,400" fill="none" stroke="#9a9a9a" stroke-width="0.8" stroke-dasharray="3,3"/>
<path d="M1051,250 L1062,280 L1077,306 L1095,336 L1125,343" fill="none" stroke="#9a9a9a" stroke-width="0.8" stroke-dasharray="3,3"/>
<path d="M1125,343 L1126,400" fill="none" stroke="#9a9a9a" stroke-width="0.8" stroke-dasharray="3,3"/>
<path d="M1125,341 L1232,339" fill="none" stroke="#9a9a9a" stroke-width="0.8" stroke-dasharray="3,3"/>
<path d="M1232,250 L1232,395" fill="none" stroke="#9a9a9a" stroke-width="0.8" stroke-dasharray="3,3"/>
<path d="M1232,318.7 L1347,318.7" fill="none" stroke="#9a9a9a" stroke-width="0.8" stroke-dasharray="3,3"/>
<path d="M1232,380 L1352,380" fill="none" stroke="#9a9a9a" stroke-width="0.8" stroke-dasharray="3,3"/>
<path d="M1341,250 L1345,290 L1347,318 L1350,370 L1356,390" fill="none" stroke="#9a9a9a" stroke-width="0.8" stroke-dasharray="3,3"/>
<path d="M935,317 L1036,317" fill="none" stroke="#9a9a9a" stroke-width="0.8" stroke-dasharray="3,3"/>
<path d="M1142,100 L1142,250" fill="none" stroke="#9a9a9a" stroke-width="0.8" stroke-dasharray="3,3"/>
<path d="M1266,100 L1273,250" fill="none" stroke="#9a9a9a" stroke-width="0.8" stroke-dasharray="3,3"/>
<path d="M1367,250 L1367,158 L1421,100" fill="none" stroke="#9a9a9a" stroke-width="0.8" stroke-dasharray="3,3"/>
<path d="M1356,390 L1380,410" fill="none" stroke="#9a9a9a" stroke-width="0.8" stroke-dasharray="3,3"/>
<path d="M1262,442 L1380,442" fill="none" stroke="#9a9a9a" stroke-width="0.8" stroke-dasharray="3,3"/>
<path d="M1290,470 L1290,520 L1340,520 L1350,560" fill="none" stroke="#9a9a9a" stroke-width="0.8" stroke-dasharray="3,3"/>
<path d="M1150,490 L1220,490 L1220,560" fill="none" stroke="#9a9a9a" stroke-width="0.8" stroke-dasharray="3,3"/>
<path d="M1370,470 L1420,470 L1430,520" fill="none" stroke="#9a9a9a" stroke-width="0.8" stroke-dasharray="3,3"/>
<path d="M1430,520 L1560,510 L1640,505" fill="none" stroke="#9a9a9a" stroke-width="0.8" stroke-dasharray="3,3"/>
<path d="M1420,550 L1460,610" fill="none" stroke="#9a9a9a" stroke-width="0.8" stroke-dasharray="3,3"/>
<path d="M1460,540 L1490,615" fill="none" stroke="#9a9a9a" stroke-width="0.8" stroke-dasharray="3,3"/>
<path d="M1510,540 L1540,610" fill="none" stroke="#9a9a9a" stroke-width="0.8" stroke-dasharray="3,3"/>
<path d="M1520,450 L1530,500" fill="none" stroke="#9a9a9a" stroke-width="0.8" stroke-dasharray="3,3"/>
<path d="M1560,420 L1640,420" fill="none" stroke="#9a9a9a" stroke-width="0.8" stroke-dasharray="3,3"/>
<path d="M1600,440 L1650,460" fill="none" stroke="#9a9a9a" stroke-width="0.8" stroke-dasharray="3,3"/>
<path d="M1700,390 L1720,340" fill="none" stroke="#9a9a9a" stroke-width="0.8" stroke-dasharray="3,3"/>
<path d="M1200,640 L1240,700 L1260,760" fill="none" stroke="#9a9a9a" stroke-width="0.8" stroke-dasharray="3,3"/>
<path d="M1150,690 L1190,720" fill="none" stroke="#9a9a9a" stroke-width="0.8" stroke-dasharray="3,3"/>
<path d="M1260,700 L1300,730 L1310,780" fill="none" stroke="#9a9a9a" stroke-width="0.8" stroke-dasharray="3,3"/>
<path d="M1560,100 L1580,160 L1600,200 L1640,240" fill="none" stroke="#9a9a9a" stroke-width="0.8" stroke-dasharray="3,3"/>
<path d="M1770,210 L1790,160 L1770,120" fill="none" stroke="#9a9a9a" stroke-width="0.8" stroke-dasharray="3,3"/>
<path d="M1380,290 L1440,300" fill="none" stroke="#9a9a9a" stroke-width="0.8" stroke-dasharray="3,3"/>
<path d="M1440,350 L1450,400 L1460,430" fill="none" stroke="#9a9a9a" stroke-width="0.8" stroke-dasharray="3,3"/>
<path d="M1500,410 L1505,450" fill="none" stroke="#9a9a9a" stroke-width="0.8" stroke-dasharray="3,3"/>
<text x="888" y="113" font-size="13" fill="#6b7070" letter-spacing="1.0" font-weight="normal" text-anchor="start" stroke="#f7f7f0" stroke-width="3" stroke-linejoin="round" paint-order="stroke">BRITISH</text>
<text x="878" y="126" font-size="13" fill="#6b7070" letter-spacing="1.0" font-weight="normal" text-anchor="start" stroke="#f7f7f0" stroke-width="3" stroke-linejoin="round" paint-order="stroke">COLUMBIA</text>
<text x="1143" y="126" font-size="13" fill="#6b7070" letter-spacing="1.0" font-weight="normal" text-anchor="start" stroke="#f7f7f0" stroke-width="3" stroke-linejoin="round" paint-order="stroke">SASKATCHEWAN</text>
<text x="1299" y="75" font-size="13" fill="#6b7070" letter-spacing="1.0" font-weight="normal" text-anchor="start" stroke="#f7f7f0" stroke-width="3" stroke-linejoin="round" paint-order="stroke">MANITOBA</text>
<text x="1463" y="196" font-size="13" fill="#6b7070" letter-spacing="1.0" font-weight="normal" text-anchor="start" stroke="#f7f7f0" stroke-width="3" stroke-linejoin="round" paint-order="stroke">ONTARIO</text>
<text x="1672" y="201" font-size="13" fill="#6b7070" letter-spacing="1.0" font-weight="normal" text-anchor="start" stroke="#f7f7f0" stroke-width="3" stroke-linejoin="round" paint-order="stroke">QUEBEC</text>
<text x="932" y="300.5" font-size="13" fill="#6b7070" letter-spacing="1.0" font-weight="normal" text-anchor="start" stroke="#f7f7f0" stroke-width="3" stroke-linejoin="round" paint-order="stroke">WASHINGTON</text>
<text x="1113" y="302" font-size="13" fill="#6b7070" letter-spacing="1.0" font-weight="normal" text-anchor="start" stroke="#f7f7f0" stroke-width="3" stroke-linejoin="round" paint-order="stroke">MONTANA</text>
<text x="1265" y="285" font-size="13" fill="#6b7070" letter-spacing="1.0" font-weight="normal" text-anchor="start" stroke="#f7f7f0" stroke-width="3" stroke-linejoin="round" paint-order="stroke">NORTH</text>
<text x="1264" y="298" font-size="13" fill="#6b7070" letter-spacing="1.0" font-weight="normal" text-anchor="start" stroke="#f7f7f0" stroke-width="3" stroke-linejoin="round" paint-order="stroke">DAKOTA</text>
<text x="1332" y="318" font-size="13" fill="#6b7070" letter-spacing="1.0" font-weight="normal" text-anchor="start" stroke="#f7f7f0" stroke-width="3" stroke-linejoin="round" paint-order="stroke">MINNESOTA</text>
<text x="950" y="369" font-size="13" fill="#6b7070" letter-spacing="1.0" font-weight="normal" text-anchor="start" stroke="#f7f7f0" stroke-width="3" stroke-linejoin="round" paint-order="stroke">OREGON</text>
<text x="1056" y="376" font-size="13" fill="#6b7070" letter-spacing="1.0" font-weight="normal" text-anchor="start" stroke="#f7f7f0" stroke-width="3" stroke-linejoin="round" paint-order="stroke">IDAHO</text>
<text x="1143" y="386" font-size="13" fill="#6b7070" letter-spacing="1.0" font-weight="normal" text-anchor="start" stroke="#f7f7f0" stroke-width="3" stroke-linejoin="round" paint-order="stroke">WYOMING</text>
<text x="1265" y="348" font-size="13" fill="#6b7070" letter-spacing="1.0" font-weight="normal" text-anchor="start" stroke="#f7f7f0" stroke-width="3" stroke-linejoin="round" paint-order="stroke">SOUTH</text>
<text x="1264" y="361" font-size="13" fill="#6b7070" letter-spacing="1.0" font-weight="normal" text-anchor="start" stroke="#f7f7f0" stroke-width="3" stroke-linejoin="round" paint-order="stroke">DAKOTA</text>
<text x="1410" y="350" font-size="13" fill="#6b7070" letter-spacing="1.0" font-weight="normal" text-anchor="start" stroke="#f7f7f0" stroke-width="3" stroke-linejoin="round" paint-order="stroke">WISCONSIN</text>
<text x="1489" y="369" font-size="13" fill="#6b7070" letter-spacing="1.0" font-weight="normal" text-anchor="start" stroke="#f7f7f0" stroke-width="3" stroke-linejoin="round" paint-order="stroke">MICHIGAN</text>
<text x="1374" y="407" font-size="13" fill="#6b7070" letter-spacing="1.0" font-weight="normal" text-anchor="start" stroke="#f7f7f0" stroke-width="3" stroke-linejoin="round" paint-order="stroke">IOWA</text>
<text x="1422" y="427" font-size="13" fill="#6b7070" letter-spacing="1.0" font-weight="normal" text-anchor="start" stroke="#f7f7f0" stroke-width="3" stroke-linejoin="round" paint-order="stroke">ILLINOIS</text>
<text x="1269" y="417" font-size="13" fill="#6b7070" letter-spacing="1.0" font-weight="normal" text-anchor="start" stroke="#f7f7f0" stroke-width="3" stroke-linejoin="round" paint-order="stroke">NEBRASKA</text>
<text x="1289" y="476" font-size="13" fill="#6b7070" letter-spacing="1.0" font-weight="normal" text-anchor="start" stroke="#f7f7f0" stroke-width="3" stroke-linejoin="round" paint-order="stroke">KANSAS</text>
<text x="1373" y="480" font-size="13" fill="#6b7070" letter-spacing="1.0" font-weight="normal" text-anchor="start" stroke="#f7f7f0" stroke-width="3" stroke-linejoin="round" paint-order="stroke">MISSOURI</text>
<text x="1473" y="450" font-size="13" fill="#6b7070" letter-spacing="1.0" font-weight="normal" text-anchor="start" stroke="#f7f7f0" stroke-width="3" stroke-linejoin="round" paint-order="stroke">INDIA</text>
<text x="1542" y="435" font-size="13" fill="#6b7070" letter-spacing="1.0" font-weight="normal" text-anchor="start" stroke="#f7f7f0" stroke-width="3" stroke-linejoin="round" paint-order="stroke">OHIO</text>
<text x="1613" y="430" font-size="13" fill="#6b7070" letter-spacing="1.0" font-weight="normal" text-anchor="start" stroke="#f7f7f0" stroke-width="3" stroke-linejoin="round" paint-order="stroke">PENN</text>
<text x="1562" y="470" font-size="13" fill="#6b7070" letter-spacing="1.0" font-weight="normal" text-anchor="start" stroke="#f7f7f0" stroke-width="3" stroke-linejoin="round" paint-order="stroke">WEST</text>
<text x="1551" y="484" font-size="13" fill="#6b7070" letter-spacing="1.0" font-weight="normal" text-anchor="start" stroke="#f7f7f0" stroke-width="3" stroke-linejoin="round" paint-order="stroke">VIRGINIA</text>
<text x="1482" y="502" font-size="13" fill="#6b7070" letter-spacing="1.0" font-weight="normal" text-anchor="start" stroke="#f7f7f0" stroke-width="3" stroke-linejoin="round" paint-order="stroke">KENTUCKY</text>
<text x="1579" y="502" font-size="13" fill="#6b7070" letter-spacing="1.0" font-weight="normal" text-anchor="start" stroke="#f7f7f0" stroke-width="3" stroke-linejoin="round" paint-order="stroke">VIRGINIA</text>
<text x="1294" y="530" font-size="13" fill="#6b7070" letter-spacing="1.0" font-weight="normal" text-anchor="start" stroke="#f7f7f0" stroke-width="3" stroke-linejoin="round" paint-order="stroke">OKLAHOMA</text>
<text x="1452" y="530" font-size="13" fill="#6b7070" letter-spacing="1.0" font-weight="normal" text-anchor="start" stroke="#f7f7f0" stroke-width="3" stroke-linejoin="round" paint-order="stroke">TENNESSEE</text>
<text x="1370" y="548" font-size="13" fill="#6b7070" letter-spacing="1.0" font-weight="normal" text-anchor="start" stroke="#f7f7f0" stroke-width="3" stroke-linejoin="round" paint-order="stroke">ARKANSAS</text>
<text x="1156" y="565" font-size="13" fill="#6b7070" letter-spacing="1.0" font-weight="normal" text-anchor="start" stroke="#f7f7f0" stroke-width="3" stroke-linejoin="round" paint-order="stroke">NEW MEXICO</text>
<text x="1405" y="567" font-size="13" fill="#6b7070" letter-spacing="1.0" font-weight="normal" text-anchor="start" stroke="#f7f7f0" stroke-width="3" stroke-linejoin="round" paint-order="stroke">MISSISSIPPI</text>
<text x="1564" y="556" font-size="13" fill="#6b7070" letter-spacing="1.0" font-weight="normal" text-anchor="start" stroke="#f7f7f0" stroke-width="3" stroke-linejoin="round" paint-order="stroke">SOUTH</text>
<text x="1553" y="569" font-size="13" fill="#6b7070" letter-spacing="1.0" font-weight="normal" text-anchor="start" stroke="#f7f7f0" stroke-width="3" stroke-linejoin="round" paint-order="stroke">CAROLINA</text>
<text x="1460" y="587" font-size="13" fill="#6b7070" letter-spacing="1.0" font-weight="normal" text-anchor="start" stroke="#f7f7f0" stroke-width="3" stroke-linejoin="round" paint-order="stroke">ALABAMA</text>
<text x="1285" y="605" font-size="13" fill="#6b7070" letter-spacing="1.0" font-weight="normal" text-anchor="start" stroke="#f7f7f0" stroke-width="3" stroke-linejoin="round" paint-order="stroke">TEXAS</text>
<text x="1518" y="605" font-size="13" fill="#6b7070" letter-spacing="1.0" font-weight="normal" text-anchor="start" stroke="#f7f7f0" stroke-width="3" stroke-linejoin="round" paint-order="stroke">GEORGIA</text>
<text x="1380" y="625" font-size="13" fill="#6b7070" letter-spacing="1.0" font-weight="normal" text-anchor="start" stroke="#f7f7f0" stroke-width="3" stroke-linejoin="round" paint-order="stroke">LOUISIANA</text>
<text x="1548" y="678" font-size="13" fill="#6b7070" letter-spacing="1.0" font-weight="normal" text-anchor="start" stroke="#f7f7f0" stroke-width="3" stroke-linejoin="round" paint-order="stroke">FLORIDA</text>
<text x="1620" y="389" font-size="13" fill="#6b7070" letter-spacing="1.0" font-weight="normal" text-anchor="start" stroke="#f7f7f0" stroke-width="3" stroke-linejoin="round" paint-order="stroke">NEW YORK</text>
<text x="1698" y="358" font-size="13" fill="#6b7070" letter-spacing="1.0" font-weight="normal" text-anchor="start" stroke="#f7f7f0" stroke-width="3" stroke-linejoin="round" paint-order="stroke">VT</text>
<text x="1739" y="344.5" font-size="13" fill="#6b7070" letter-spacing="1.0" font-weight="normal" text-anchor="start" stroke="#f7f7f0" stroke-width="3" stroke-linejoin="round" paint-order="stroke">MAINE</text>
<text x="1713" y="378.5" font-size="13" fill="#6b7070" letter-spacing="1.0" font-weight="normal" text-anchor="start" stroke="#f7f7f0" stroke-width="3" stroke-linejoin="round" paint-order="stroke">NH</text>
<text x="1703" y="400.5" font-size="13" fill="#6b7070" letter-spacing="1.0" font-weight="normal" text-anchor="start" stroke="#f7f7f0" stroke-width="3" stroke-linejoin="round" paint-order="stroke">MA</text>
<text x="1697" y="416" font-size="13" fill="#6b7070" letter-spacing="1.0" font-weight="normal" text-anchor="start" stroke="#f7f7f0" stroke-width="3" stroke-linejoin="round" paint-order="stroke">CT RI</text>
<text x="1636" y="459" font-size="13" fill="#6b7070" letter-spacing="1.0" font-weight="normal" text-anchor="start" stroke="#f7f7f0" stroke-width="3" stroke-linejoin="round" paint-order="stroke">MD</text>
<text x="1659" y="465" font-size="13" fill="#6b7070" letter-spacing="1.0" font-weight="normal" text-anchor="start" stroke="#f7f7f0" stroke-width="3" stroke-linejoin="round" paint-order="stroke">DE NJ</text>
<text x="1798" y="303" font-size="13" fill="#6b7070" letter-spacing="1.0" font-weight="normal" text-anchor="start" stroke="#f7f7f0" stroke-width="3" stroke-linejoin="round" paint-order="stroke">NB</text>
<text x="1850" y="318" font-size="13" fill="#6b7070" letter-spacing="1.0" font-weight="normal" text-anchor="start" stroke="#f7f7f0" stroke-width="3" stroke-linejoin="round" paint-order="stroke">PE</text>
<text x="1798" y="351" font-size="13" fill="#6b7070" letter-spacing="1.0" font-weight="normal" text-anchor="start" stroke="#f7f7f0" stroke-width="3" stroke-linejoin="round" paint-order="stroke">NOVA SCOTIA</text>
<text x="1588" y="525" font-size="13" fill="#6b7070" letter-spacing="1.0" font-weight="normal" text-anchor="start" stroke="#f7f7f0" stroke-width="3" stroke-linejoin="round" paint-order="stroke">NORTH</text>
<text x="1589" y="539" font-size="13" fill="#6b7070" letter-spacing="1.0" font-weight="normal" text-anchor="start" stroke="#f7f7f0" stroke-width="3" stroke-linejoin="round" paint-order="stroke">CAROLINA</text>
<text x="1084" y="558" font-size="13" fill="#6b7070" letter-spacing="1.0" font-weight="normal" text-anchor="start" stroke="#f7f7f0" stroke-width="3" stroke-linejoin="round" paint-order="stroke">ARIZONA</text>
<text x="1822" y="132" font-size="13" fill="#6b7070" letter-spacing="1.0" font-weight="normal" text-anchor="start" stroke="#f7f7f0" stroke-width="3" stroke-linejoin="round" paint-order="stroke">NEW</text>
<text x="1826" y="144" font-size="13" fill="#6b7070" letter-spacing="1.0" font-weight="normal" text-anchor="start" stroke="#f7f7f0" stroke-width="3" stroke-linejoin="round" paint-order="stroke">AN</text>
<text x="1900" y="132" font-size="13" fill="#6b7070" letter-spacing="1.0" font-weight="normal" text-anchor="start" stroke="#f7f7f0" stroke-width="3" stroke-linejoin="round" paint-order="stroke">OLA</text>
<text x="1900" y="144" font-size="13" fill="#6b7070" letter-spacing="1.0" font-weight="normal" text-anchor="start" stroke="#f7f7f0" stroke-width="3" stroke-linejoin="round" paint-order="stroke">AD</text>
<text x="1279" y="455" font-size="22" fill="#222" letter-spacing="2.6" font-weight="bold" text-anchor="start" stroke="#f4f2e6" stroke-width="3.5" stroke-linejoin="round" paint-order="stroke">States</text>
<text x="1226" y="739" font-size="17.5" fill="#222" letter-spacing="0" font-weight="bold" text-anchor="start" stroke="#f4f2e6" stroke-width="3.5" stroke-linejoin="round" paint-order="stroke">Mexico</text>
<text x="1421" y="705" font-size="14" fill="#5a7fc4" letter-spacing="0" font-weight="normal" text-anchor="start" stroke="#b1d7fb" stroke-width="0" stroke-linejoin="round" paint-order="stroke">Gulf of</text>
<text x="1421" y="720" font-size="14" fill="#5a7fc4" letter-spacing="0" font-weight="normal" text-anchor="start" stroke="#b1d7fb" stroke-width="0" stroke-linejoin="round" paint-order="stroke">Mexico</text>
<text x="1626" y="888" font-size="14" fill="#5a7fc4" letter-spacing="0" font-weight="normal" text-anchor="start" stroke="#b1d7fb" stroke-width="0" stroke-linejoin="round" paint-order="stroke">Caribbean Sea</text>
<text x="0" y="0" font-size="14" fill="#5a7fc4" transform="translate(1088,640) rotate(58)">Gulf of California</text>
<text x="1763" y="1003" font-size="19" fill="#555" letter-spacing="0.5" font-weight="bold" text-anchor="start" stroke="#f4f2e6" stroke-width="3" stroke-linejoin="round" paint-order="stroke">Venezuela</text>
<text x="907" y="479" font-size="14.3" fill="#2b2b2b" letter-spacing="0" font-weight="normal" text-anchor="start" stroke="#ffffff" stroke-width="3" stroke-linejoin="round" paint-order="stroke">San F</text>
<text x="962" y="585" font-size="14.3" fill="#2b2b2b" letter-spacing="0" font-weight="normal" text-anchor="start" stroke="#ffffff" stroke-width="3" stroke-linejoin="round" paint-order="stroke">San Diego</text>
<text x="1322" y="573" font-size="14.3" fill="#2b2b2b" letter-spacing="0" font-weight="normal" text-anchor="start" stroke="#ffffff" stroke-width="3" stroke-linejoin="round" paint-order="stroke">Dallas</text>
<text x="1348" y="650" font-size="14.3" fill="#2b2b2b" letter-spacing="0" font-weight="normal" text-anchor="start" stroke="#ffffff" stroke-width="3" stroke-linejoin="round" paint-order="stroke">ouston</text>
<text x="1455" y="398" font-size="14.3" fill="#2b2b2b" letter-spacing="0" font-weight="normal" text-anchor="start" stroke="#ffffff" stroke-width="3" stroke-linejoin="round" paint-order="stroke">Chicago</text>
<text x="1581" y="361" font-size="14.3" fill="#2b2b2b" letter-spacing="0" font-weight="normal" text-anchor="start" stroke="#ffffff" stroke-width="3" stroke-linejoin="round" paint-order="stroke">Toronto</text>
<text x="1610" y="323" font-size="14.3" fill="#2b2b2b" letter-spacing="0" font-weight="normal" text-anchor="start" stroke="#ffffff" stroke-width="3" stroke-linejoin="round" paint-order="stroke">Ottawa</text>
<text x="1700" y="322" font-size="14.3" fill="#2b2b2b" letter-spacing="0" font-weight="normal" text-anchor="start" stroke="#ffffff" stroke-width="3" stroke-linejoin="round" paint-order="stroke">Montreal</text>
<text x="1676.5" y="449" font-size="14.3" fill="#2b2b2b" letter-spacing="0" font-weight="normal" text-anchor="start" stroke="#ffffff" stroke-width="3" stroke-linejoin="round" paint-order="stroke">Philadelphia</text>
<text x="1269" y="798" font-size="14.3" fill="#2b2b2b" letter-spacing="0" font-weight="normal" text-anchor="start" stroke="#ffffff" stroke-width="3" stroke-linejoin="round" paint-order="stroke">Mexico City</text>
<text x="1769" y="938" font-size="14.3" fill="#2b2b2b" letter-spacing="0" font-weight="normal" text-anchor="start" stroke="#ffffff" stroke-width="3" stroke-linejoin="round" paint-order="stroke">Caracas</text>
<text x="1595" y="775" font-size="14.3" fill="#222" letter-spacing="0" font-weight="bold" text-anchor="start" stroke="#ffffff" stroke-width="3" stroke-linejoin="round" paint-order="stroke">Cuba</text>
<text x="1720" y="802" font-size="14.3" fill="#222" letter-spacing="0" font-weight="bold" text-anchor="start" stroke="#ffffff" stroke-width="3" stroke-linejoin="round" paint-order="stroke">Dominican</text>
<text x="1727" y="815" font-size="14.3" fill="#222" letter-spacing="0" font-weight="bold" text-anchor="start" stroke="#ffffff" stroke-width="3" stroke-linejoin="round" paint-order="stroke">Republic</text>
<text x="1804" y="829" font-size="12.5" fill="#222" letter-spacing="0" font-weight="bold" text-anchor="start" stroke="#ffffff" stroke-width="3" stroke-linejoin="round" paint-order="stroke">Puerto R</text>
<text x="1404" y="867" font-size="14.3" fill="#222" letter-spacing="0" font-weight="bold" text-anchor="start" stroke="#ffffff" stroke-width="3" stroke-linejoin="round" paint-order="stroke">Guatemala</text>
<text x="1459" y="883" font-size="14.3" fill="#222" letter-spacing="0" font-weight="bold" text-anchor="start" stroke="#ffffff" stroke-width="3" stroke-linejoin="round" paint-order="stroke">Honduras</text>
<text x="1487" y="914" font-size="14.3" fill="#222" letter-spacing="0" font-weight="bold" text-anchor="start" stroke="#ffffff" stroke-width="3" stroke-linejoin="round" paint-order="stroke">Nicaragua</text>
<text x="1498" y="959" font-size="14.3" fill="#222" letter-spacing="0" font-weight="bold" text-anchor="start" stroke="#ffffff" stroke-width="3" stroke-linejoin="round" paint-order="stroke">Costa Rica</text>
<text x="1569" y="982" font-size="14.3" fill="#222" letter-spacing="0" font-weight="bold" text-anchor="start" stroke="#ffffff" stroke-width="3" stroke-linejoin="round" paint-order="stroke">Panama</text>
<circle cx="1481.4" cy="403.9" r="3.6" fill="#fff" stroke="#333" stroke-width="1.4"/>
<circle cx="1606.3" cy="368" r="3.6" fill="#fff" stroke="#333" stroke-width="1.4"/>
<circle cx="1662.4" cy="330.6" r="4.2" fill="#fff" stroke="#222" stroke-width="1.4"/><circle cx="1662.4" cy="330.6" r="2" fill="#222"/>
<circle cx="1694.5" cy="328.7" r="3.6" fill="#fff" stroke="#333" stroke-width="1.4"/>
<circle cx="1671" cy="443.6" r="3.6" fill="#fff" stroke="#333" stroke-width="1.4"/>
<circle cx="1342.5" cy="578.3" r="3.6" fill="#fff" stroke="#333" stroke-width="1.4"/>
<circle cx="1364.3" cy="631.7" r="3.6" fill="#fff" stroke="#333" stroke-width="1.4"/>
<circle cx="1033" cy="579.4" r="3.6" fill="#fff" stroke="#333" stroke-width="1.4"/>
<circle cx="1306.3" cy="804.2" r="4.2" fill="#fff" stroke="#222" stroke-width="1.4"/><circle cx="1306.3" cy="804.2" r="2" fill="#222"/>
<circle cx="1796" cy="945.4" r="4.2" fill="#fff" stroke="#222" stroke-width="1.4"/><circle cx="1796" cy="945.4" r="2" fill="#222"/>
<g opacity="1.0"><circle cx="1007.6" cy="563.3" r="27" fill="url(#cshadow)"/><circle cx="1007.6" cy="563.3" r="16.8" fill="#ffff5c" stroke="#0a14f0" stroke-width="3.8"/><text x="1007.6" y="569.9" font-size="18.5" font-weight="bold" fill="#1414e0" text-anchor="middle">32</text></g>
<g opacity="1.0"><circle cx="1111.6" cy="585" r="27" fill="url(#cshadow)"/><circle cx="1111.6" cy="585" r="16.8" fill="#ffff5c" stroke="#0a14f0" stroke-width="3.8"/><text x="1111.6" y="591.6" font-size="18.5" font-weight="bold" fill="#1414e0" text-anchor="middle">10</text></g>
<g opacity="1.0"><circle cx="1250.8" cy="599.6" r="27" fill="url(#cshadow)"/><circle cx="1250.8" cy="599.6" r="16.8" fill="#ffff5c" stroke="#0a14f0" stroke-width="3.8"/><text x="1250.8" y="606.2" font-size="18.5" font-weight="bold" fill="#1414e0" text-anchor="middle">23</text></g>
<g opacity="1.0"><circle cx="1328.6" cy="646.4" r="27" fill="url(#cshadow)"/><circle cx="1328.6" cy="646.4" r="16.8" fill="#ffff5c" stroke="#0a14f0" stroke-width="3.8"/><text x="1328.6" y="653.0" font-size="18.5" font-weight="bold" fill="#1414e0" text-anchor="middle">3</text></g>
<g opacity="1.0"><circle cx="1409.2" cy="567.7" r="27" fill="url(#cshadow)"/><circle cx="1409.2" cy="567.7" r="16.8" fill="#ffff5c" stroke="#0a14f0" stroke-width="3.8"/><text x="1409.2" y="574.3000000000001" font-size="18.5" font-weight="bold" fill="#1414e0" text-anchor="middle">2</text></g>
<g opacity="1.0"><circle cx="1487.7" cy="522.1" r="27" fill="url(#cshadow)"/><circle cx="1487.7" cy="522.1" r="16.8" fill="#ffff5c" stroke="#0a14f0" stroke-width="3.8"/><text x="1487.7" y="528.7" font-size="18.5" font-weight="bold" fill="#1414e0" text-anchor="middle">4</text></g>
<g opacity="0.85"><circle cx="1591.3" cy="435.3" r="27" fill="url(#cshadow)"/><circle cx="1591.3" cy="435.3" r="16.8" fill="#ffff5c" stroke="#0a14f0" stroke-width="3.8"/><text x="1591.3" y="441.90000000000003" font-size="18.5" font-weight="bold" fill="#1414e0" text-anchor="middle">35</text></g>
<path d="M1540.7,454.5 L1532.0,463.2 L1519.8,463.2 L1511.1,454.5 L1511.1,442.3 L1519.8,433.6 L1532.0,433.6 L1540.7,442.3 Z" fill="#d8403a"/><path d="M1537.4,453.2 L1530.7,459.9 L1521.1,459.9 L1514.4,453.2 L1514.4,443.6 L1521.1,436.9 L1530.7,436.9 L1537.4,443.6 Z" fill="#2a0f10"/><rect x="1522.9" y="442.4" width="6" height="12" rx="2.5" fill="#e8e8e8"/><rect x="1523.9" y="445.9" width="4" height="3" fill="#2a0f10"/>
<path d="M1575.4,546.1 L1566.7,554.8 L1554.5,554.8 L1545.8,546.1 L1545.8,533.9 L1554.5,525.2 L1566.7,525.2 L1575.4,533.9 Z" fill="#d8403a"/><path d="M1572.1,544.8 L1565.4,551.5 L1555.8,551.5 L1549.1,544.8 L1549.1,535.2 L1555.8,528.5 L1565.4,528.5 L1572.1,535.2 Z" fill="#2a0f10"/><rect x="1557.6" y="534" width="6" height="12" rx="2.5" fill="#e8e8e8"/><rect x="1558.6" y="537.5" width="4" height="3" fill="#2a0f10"/>
<g opacity="0.75"><circle cx="1616.7" cy="518.4" r="15" fill="#eef5e6" stroke="#9dc98f" stroke-width="2"/><path d="M1620,503 L1632,503 L1628,514 Z" fill="#3aa043"/><rect x="1604" y="513" width="24" height="8" fill="none" stroke="#444" stroke-width="1.5"/></g>
<rect x="1553" y="430.5" width="117" height="18.5" fill="#ffffff" fill-opacity="0.72" stroke="#a9c6f0" stroke-width="1.5"/>
<text x="1590" y="445.5" font-size="13.5" fill="#e23b3b" letter-spacing="0.8">U-523</text>
<rect x="1643" y="503.5" width="116" height="16.5" fill="#ffffff" fill-opacity="0.72" stroke="#a9c6f0" stroke-width="1.5"/>
<text x="1657" y="516.5" font-size="13.5" fill="#e23b3b" letter-spacing="0.8">7200000529</text>
<rect x="1589" y="524" width="115" height="16" fill="#ffffff" fill-opacity="0.72" stroke="#a9c6f0" stroke-width="1.5"/>
<text x="1614" y="536.5" font-size="13.5" fill="#e23b3b" letter-spacing="0.8">U-177W3</text>
</svg>
<div class="ab" style="left:800px;top:46px;width:21px;height:970px;background:linear-gradient(to right,rgba(132,132,132,0.21),rgba(132,132,132,0.12) 35%,rgba(132,132,132,0.04) 70%,rgba(132,132,132,0))"></div>
<div class="ab" style="left:800px;top:46px;width:1120px;height:53.5px;background:rgba(133,133,133,0.53)"></div>
<div style="position:absolute;top:54.3px;height:37.8px;border-radius:3px;font-size:16px;line-height:37.8px;text-align:center;box-shadow:0 1px 2px rgba(0,0,0,0.2);left:807.5px;width:77.2px;background:#ffffff;color:#333333">Satellite</div>
<div style="position:absolute;top:54.3px;height:37.8px;border-radius:3px;font-size:16px;line-height:37.8px;text-align:center;box-shadow:0 1px 2px rgba(0,0,0,0.2);left:892.6px;width:62.8px;background:#ffffff;color:#333333">Traffic</div>
<div style="position:absolute;top:54.3px;height:37.8px;border-radius:3px;font-size:16px;line-height:37.8px;text-align:center;box-shadow:0 1px 2px rgba(0,0,0,0.2);left:962.7px;width:66.9px;background:#e1b058;color:#ffffff">Online</div>
<div style="position:absolute;top:54.3px;height:37.8px;border-radius:3px;font-size:16px;line-height:37.8px;text-align:center;box-shadow:0 1px 2px rgba(0,0,0,0.2);left:1035.9px;width:68.1px;background:#e1b058;color:#ffffff">Offline</div>
<div style="position:absolute;top:54.3px;height:37.8px;border-radius:3px;font-size:16px;line-height:37.8px;text-align:center;box-shadow:0 1px 2px rgba(0,0,0,0.2);left:1111px;width:52.2px;background:#ffffff;color:#333333">Alert</div>
<div style="position:absolute;top:54.3px;height:37.8px;border-radius:3px;font-size:16px;line-height:37.8px;text-align:center;box-shadow:0 1px 2px rgba(0,0,0,0.2);left:1484px;width:118.5px;background:#e1b058;color:#ffffff">Map Tracking</div>
<div style="position:absolute;top:54.3px;height:37.8px;border-radius:3px;font-size:16px;line-height:37.8px;text-align:center;box-shadow:0 1px 2px rgba(0,0,0,0.2);left:1607.8px;width:88.6px;background:#ffffff;color:#333333">Geofence</div>
<div style="position:absolute;top:54.3px;height:37.8px;border-radius:3px;font-size:16px;line-height:37.8px;text-align:center;box-shadow:0 1px 2px rgba(0,0,0,0.2);left:1703.5px;width:112.5px;background:#ffffff;color:#333333">Asset Pairing</div>
<div style="position:absolute;top:54.3px;height:37.8px;border-radius:3px;font-size:16px;line-height:37.8px;text-align:center;box-shadow:0 1px 2px rgba(0,0,0,0.2);left:1822.3px;width:90.0px;background:#ffffff;color:#333333">Utilization</div>
<div class="ab" style="left:820px;top:107px;width:40px;height:40px;background:#fff;box-shadow:0 1px 3px rgba(0,0,0,0.25)"></div>
<svg class="ab" style="left:820px;top:107px" width="40" height="40" viewBox="0 0 40 40"><g stroke="#555" stroke-width="1.8" fill="none"><path d="M9 9 L17 17 M17 11 L17 17 L11 17"/><path d="M31 9 L23 17 M23 11 L23 17 L29 17"/><path d="M9 31 L17 23 M17 29 L17 23 L11 23"/><path d="M31 31 L23 23 M23 29 L23 23 L29 23"/></g></svg>
<div class="ab" style="left:1847px;top:107px;width:53px;height:53px;background:#fff;box-shadow:0 1px 3px rgba(0,0,0,0.25)"></div>
<svg class="ab" style="left:1847px;top:107px" width="53" height="53" viewBox="0 0 53 53"><g stroke="#666" stroke-width="3" fill="none"><path d="M15.5 21 L15.5 15.5 L21 15.5"/><path d="M32 15.5 L37.5 15.5 L37.5 21"/><path d="M15.5 32 L15.5 37.5 L21 37.5"/><path d="M32 37.5 L37.5 37.5 L37.5 32"/></g></svg>
<div class="ab" style="left:1847px;top:776px;width:52.5px;height:53px;background:#fff;box-shadow:0 1px 3px rgba(0,0,0,0.25)"></div>
<svg class="ab" style="left:1847px;top:776px" width="53" height="53" viewBox="0 0 53 53"><circle cx="26.3" cy="14" r="5.6" fill="#f4b400" stroke="#e39b00" stroke-width="0.8"/><path d="M19.5 22 Q26.3 19 33 22 L34.5 33 L31.5 33 L31 45.5 L27.5 45.5 L27 37 L25.6 37 L25 45.5 L21.5 45.5 L21 33 L18 33 Z" fill="#f4b400" stroke="#e39b00" stroke-width="0.8"/><path d="M23 21.5 L26.3 26 L29.5 21.5" fill="none" stroke="#d9702a" stroke-width="1.2"/></svg>
<div class="ab" style="left:1847px;top:872.3px;width:52.5px;height:107.3px;background:#fff;box-shadow:0 1px 3px rgba(0,0,0,0.25)"></div>
<div class="ab" style="left:1853px;top:925.5px;width:40px;height:1px;background:#e6e6e6"></div>
<svg class="ab" style="left:1847px;top:872.3px" width="53" height="108" viewBox="0 0 53 108"><path d="M14 26.5 L38.5 26.5 M26.3 14.5 L26.3 38.5" stroke="#666" stroke-width="5"/><path d="M14 81.3 L38.5 81.3" stroke="#666" stroke-width="5"/></svg>
<svg class="ab" style="left:812px;top:976px" width="92" height="34" viewBox="0 0 92 34" font-family="Liberation Sans, sans-serif" font-size="26.5"><text x="3" y="25" fill="#4285f4" stroke="#e8f3fd" stroke-width="4.5" stroke-linejoin="round">G</text><text x="22.5" y="25" fill="#ea4335" stroke="#e8f3fd" stroke-width="4.5" stroke-linejoin="round">o</text><text x="37.5" y="25" fill="#fbbc05" stroke="#e8f3fd" stroke-width="4.5" stroke-linejoin="round">o</text><text x="52.5" y="25" fill="#4285f4" stroke="#e8f3fd" stroke-width="4.5" stroke-linejoin="round">g</text><text x="67.3" y="25" fill="#34a853" stroke="#e8f3fd" stroke-width="4.5" stroke-linejoin="round">l</text><text x="73.5" y="25" fill="#ea4335" stroke="#e8f3fd" stroke-width="4.5" stroke-linejoin="round">e</text><text x="3" y="25" fill="#4285f4" stroke="#4285f4" stroke-width="0.9">G</text><text x="22.5" y="25" fill="#ea4335" stroke="#ea4335" stroke-width="0.9">o</text><text x="37.5" y="25" fill="#fbbc05" stroke="#fbbc05" stroke-width="0.9">o</text><text x="52.5" y="25" fill="#4285f4" stroke="#4285f4" stroke-width="0.9">g</text><text x="67.3" y="25" fill="#34a853" stroke="#34a853" stroke-width="0.9">l</text><text x="73.5" y="25" fill="#ea4335" stroke="#ea4335" stroke-width="0.9">e</text></svg>
<div class="ab" style="left:1483.5px;top:993.8px;width:436.5px;height:18.2px;background:rgba(245,245,245,0.72)"></div>
<div class="t" style="left:1490px;top:995px;font-size:12.95px;line-height:16px;color:#444">Map data ©2020 Google, INEGI</div>
<div class="ab" style="left:1682px;top:994px;width:1px;height:18px;background:rgba(255,255,255,0.8)"></div>
<div class="t" style="left:1690.5px;top:995px;font-size:12.9px;line-height:16px;color:#444">500 km</div>
<svg class="ab" style="left:1738px;top:996px" width="72" height="12" viewBox="0 0 72 12"><path d="M1 2 L1 9 L70 9 L70 2" fill="none" stroke="#555" stroke-width="2"/></svg>
<div class="t" style="left:1827px;top:995px;font-size:13.1px;line-height:16px;color:#444">Terms of Use</div>
<div class="ab" style="left:942.2px;top:388.2px;width:326.2px;height:164px;border-radius:8px;background:#fff;box-shadow:0 2px 7px 1px rgba(0,0,0,0.3);overflow:hidden"><div style="position:absolute;left:0;top:0;width:100%;height:36px;background:#3e5f8b"></div></div>
<svg class="ab" style="left:1089.5px;top:552px" width="32" height="16" viewBox="0 0 32 16"><path d="M0 0 L16 14.5 L32 0 Z" fill="#fff"/></svg>
<div class="t" style="left:1055.5px;top:397px;width:80px;text-align:center;font-size:14.5px;line-height:18px;font-weight:bold;color:#fff">U-504</div>
<div class="ab" style="left:1238.5px;top:396.5px;width:19.5px;height:19.5px;background:#c9d1dc"></div>
<svg class="ab" style="left:1238.5px;top:396.5px" width="20" height="20" viewBox="0 0 20 20"><path d="M4 4 L16 16 M16 4 L4 16" stroke="#222" stroke-width="1.8"/></svg>
<div class="t" style="left:948px;top:434.59999999999997px;width:100px;text-align:right;font-size:13.4px;line-height:16px;font-weight:bold;color:#555">Speed:</div>
<div class="t" style="left:1063.5px;top:434.09999999999997px;font-size:14.3px;line-height:16px;color:#333;">11.7 KMH</div>
<div class="t" style="left:948px;top:458.59999999999997px;width:100px;text-align:right;font-size:13.4px;line-height:16px;font-weight:bold;color:#555">RPM:</div>
<div class="t" style="left:1063.5px;top:458.09999999999997px;font-size:14.3px;line-height:16px;color:#333;">906</div>
<div class="t" style="left:948px;top:482.59999999999997px;width:100px;text-align:right;font-size:13.4px;line-height:16px;font-weight:bold;color:#555">Location:</div>
<div class="t" style="left:1063.5px;top:482.09999999999997px;font-size:14.3px;line-height:16px;color:#3f7ac4;letter-spacing:0.8px;">33.461642, -112.434697</div>
<div class="t" style="left:948px;top:506.59999999999997px;width:100px;text-align:right;font-size:13.4px;line-height:16px;font-weight:bold;color:#555">Address:</div>
<div class="t" style="left:1063.5px;top:506.09999999999997px;font-size:14.3px;line-height:16px;color:#333;">17700 W Roosevelt St,</div>
<div class="t" style="left:1063.5px;top:523.6px;font-size:14.3px;line-height:16px;color:#333">Goodyear, AZ 85338, USA</div>
</body></html>
